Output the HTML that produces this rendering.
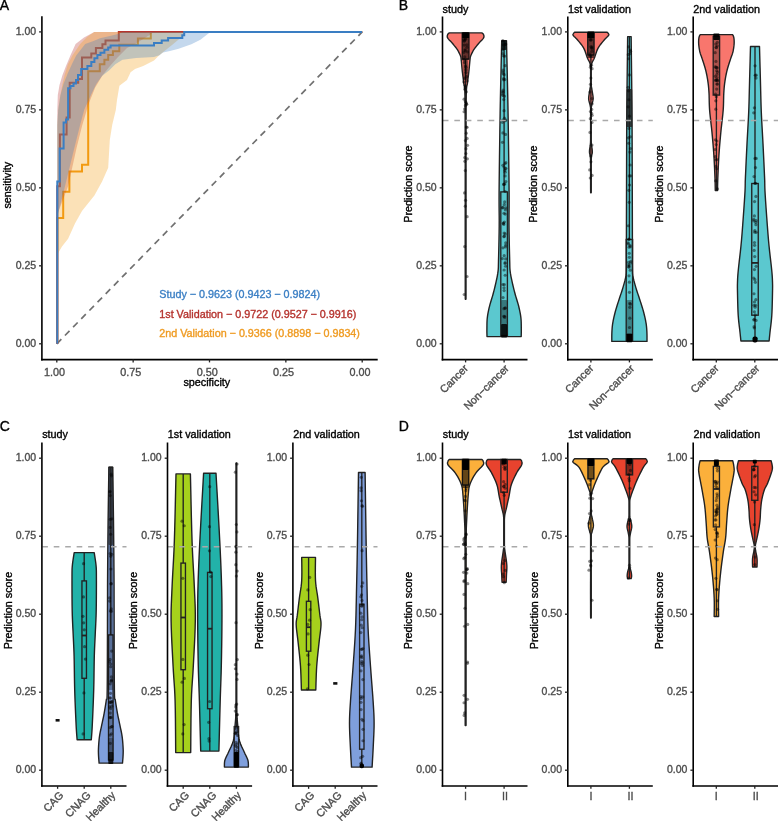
<!DOCTYPE html>
<html><head><meta charset="utf-8"><style>
html,body{margin:0;padding:0;background:#fff;width:778px;height:821px;overflow:hidden}
svg{display:block;will-change:transform}
text{font-family:"Liberation Sans", sans-serif}
</style></head><body>
<svg width="778" height="821" viewBox="0 0 778 821" font-family='"Liberation Sans", sans-serif'><rect width="778" height="821" fill="#fff"/><line x1="56.8" y1="343.8" x2="362.2" y2="31.9" stroke="#707070" stroke-width="1.7" stroke-dasharray="6.5 5.15"/><path d="M57.3,343.8 V217.9 H63.2 V191.7 H69.4 V171.6 H82 V164.7 H88.2 V71.3 H99.8 V64.3 H104.4 V59.7 H108.2 V55.1 H112.9 V51.2 H119.3 V44.8 H137.9 V38.5 H150.8 V31.9 H362.2" fill="none" stroke="#f39a12" stroke-width="2.0" stroke-linejoin="miter"/><path d="M57.3,343.8 V186.3 H59.9 V134.5 H66.6 V117.5 H69.7 V82.8 H78.2 V79 H82 V57.4 H91.3 V53.5 H95.9 V48.1 H102.4 V44.3 H105.5 V40.4 H118.8 V31.9 H362.2" fill="none" stroke="#b7332e" stroke-width="2.0" stroke-linejoin="miter"/><path d="M57.30,214.00 L57.30,110.00 L57.80,95.00 L59.50,85.00 L62.50,75.00 L66.00,66.00 L70.40,55.60 L75.60,44.10 L84.00,37.50 L94.20,31.90 L153.00,31.90 L150.40,34.50 L143.20,39.00 L136.00,43.50 L127.00,48.00 L118.00,57.00 L110.00,66.00 L102.70,75.00 L98.50,82.00 L95.20,87.40 L88.60,103.90 L82.10,125.80 L76.60,147.70 L68.10,186.30 L58.10,212.50Z" fill="#b7332e" fill-opacity="0.3" stroke="none"/><path d="M57.30,254.60 L57.30,125.00 L58.20,110.00 L60.00,97.00 L62.30,85.00 L64.60,75.00 L68.00,64.00 L72.40,55.60 L80.10,44.10 L87.00,37.00 L94.20,31.90 L186.00,31.90 L184.00,35.00 L172.00,45.00 L162.00,53.00 L158.50,56.00 L154.00,60.60 L143.20,66.00 L135.00,69.00 L130.60,72.30 L127.00,80.00 L119.40,85.80 L117.00,100.00 L115.80,110.00 L112.20,125.00 L109.80,140.00 L108.20,167.80 L102.10,181.60 L94.40,195.50 L82.00,211.00 L75.10,223.30 L68.10,238.70 L62.00,246.40Z" fill="#f39a12" fill-opacity="0.3" stroke="none"/><path d="M57.30,220.00 L57.30,125.00 L58.20,110.00 L60.50,95.00 L63.50,84.00 L67.90,73.00 L72.00,64.00 L76.20,55.60 L85.20,44.10 L93.60,40.90 L100.00,38.20 L110.00,36.00 L118.00,34.00 L122.00,31.90 L211.00,31.90 L209.40,32.70 L200.40,39.80 L191.40,44.30 L178.60,48.80 L170.00,51.00 L163.00,52.50 L159.40,55.20 L154.00,57.00 L136.00,57.90 L122.50,59.70 L115.30,64.20 L109.00,70.50 L102.00,76.00 L96.30,84.10 L91.90,92.90 L84.30,109.40 L79.90,125.80 L74.40,147.70 L65.00,186.30 L58.00,214.00Z" fill="#3a7ec3" fill-opacity="0.3" stroke="none"/><path d="M57.3,343.8 V181.6 H59.7 V148.4 H63.6 V122.5 H66 V119.5 H68.1 V88.2 H70.5 V85.9 H73.5 V83.6 H76 V80 H78 V75 H81.2 V69 H87.4 V65.9 H91.3 V62 H94.4 V58.2 H97.4 V55.1 H100.5 V52.8 H104.4 V49.7 H108.2 V47.4 H110.6 V45.6 H154 V43 H161.7 V40.4 H168.1 V37.9 H182.3 V35.3 H184.2 V31.9 H362.2" fill="none" stroke="#3a7ec3" stroke-width="2.0" stroke-linejoin="miter"/><line x1="41.9" y1="16.2" x2="41.9" y2="360.40000000000003" stroke="#000" stroke-width="1.6"/><line x1="39.10" y1="343.80" x2="41.90" y2="343.80" stroke="#222" stroke-width="1.3"/><text x="36.10" y="346.70" font-size="10.5" text-anchor="end" fill="#4d4d4d" stroke="#4d4d4d" stroke-width="0.35">0.00</text><line x1="39.10" y1="265.83" x2="41.90" y2="265.83" stroke="#222" stroke-width="1.3"/><text x="36.10" y="268.73" font-size="10.5" text-anchor="end" fill="#4d4d4d" stroke="#4d4d4d" stroke-width="0.35">0.25</text><line x1="39.10" y1="187.85" x2="41.90" y2="187.85" stroke="#222" stroke-width="1.3"/><text x="36.10" y="190.75" font-size="10.5" text-anchor="end" fill="#4d4d4d" stroke="#4d4d4d" stroke-width="0.35">0.50</text><line x1="39.10" y1="109.88" x2="41.90" y2="109.88" stroke="#222" stroke-width="1.3"/><text x="36.10" y="112.78" font-size="10.5" text-anchor="end" fill="#4d4d4d" stroke="#4d4d4d" stroke-width="0.35">0.75</text><line x1="39.10" y1="31.90" x2="41.90" y2="31.90" stroke="#222" stroke-width="1.3"/><text x="36.10" y="34.80" font-size="10.5" text-anchor="end" fill="#4d4d4d" stroke="#4d4d4d" stroke-width="0.35">1.00</text><line x1="41.1" y1="359.6" x2="377.7" y2="359.6" stroke="#000" stroke-width="1.6"/><line x1="56.80" y1="359.60" x2="56.80" y2="362.40" stroke="#222" stroke-width="1.3"/><line x1="133.15" y1="359.60" x2="133.15" y2="362.40" stroke="#222" stroke-width="1.3"/><line x1="209.50" y1="359.60" x2="209.50" y2="362.40" stroke="#222" stroke-width="1.3"/><line x1="285.85" y1="359.60" x2="285.85" y2="362.40" stroke="#222" stroke-width="1.3"/><line x1="362.20" y1="359.60" x2="362.20" y2="362.40" stroke="#222" stroke-width="1.3"/><text x="54.50" y="375.80" font-size="10.8" text-anchor="middle" fill="#4d4d4d" stroke="#4d4d4d" stroke-width="0.35">1.00</text><text x="130.85" y="375.80" font-size="10.8" text-anchor="middle" fill="#4d4d4d" stroke="#4d4d4d" stroke-width="0.35">0.75</text><text x="207.20" y="375.80" font-size="10.8" text-anchor="middle" fill="#4d4d4d" stroke="#4d4d4d" stroke-width="0.35">0.50</text><text x="283.55" y="375.80" font-size="10.8" text-anchor="middle" fill="#4d4d4d" stroke="#4d4d4d" stroke-width="0.35">0.25</text><text x="359.90" y="375.80" font-size="10.8" text-anchor="middle" fill="#4d4d4d" stroke="#4d4d4d" stroke-width="0.35">0.00</text><text x="206.80" y="385.90" font-size="10.8" text-anchor="middle" fill="#000" stroke="#000" stroke-width="0.35">specificity</text><text x="11.50" y="185.20" font-size="10.8" text-anchor="middle" fill="#000" stroke="#000" stroke-width="0.35" transform="rotate(-90 11.50 185.20)">sensitivity</text><text x="159.30" y="297.90" font-size="10.75" text-anchor="start" fill="#3b7fc4" stroke="#3b7fc4" stroke-width="0.35">Study − 0.9623 (0.9423 − 0.9824)</text><text x="159.30" y="317.60" font-size="10.75" text-anchor="start" fill="#b5322d" stroke="#b5322d" stroke-width="0.35">1st Validation − 0.9722 (0.9527 − 0.9916)</text><text x="159.30" y="336.90" font-size="10.75" text-anchor="start" fill="#ef9b22" stroke="#ef9b22" stroke-width="0.35">2nd Validation − 0.9366 (0.8898 − 0.9834)</text><text x="-0.30" y="9.80" font-size="14" text-anchor="start" fill="#000" stroke="#000" stroke-width="0.35">A</text><path d="M481.80,32.90 L481.99,33.03 L482.26,33.19 L482.58,33.39 L482.90,33.63 L483.19,33.93 L483.40,34.30 L483.58,34.74 L483.76,35.24 L483.91,35.79 L483.97,36.40 L483.92,37.03 L483.70,37.70 L483.28,38.40 L482.68,39.13 L481.96,39.91 L481.17,40.71 L480.37,41.54 L479.60,42.40 L478.82,43.32 L477.99,44.31 L477.13,45.32 L476.30,46.33 L475.55,47.27 L474.90,48.10 L474.39,48.80 L473.98,49.39 L473.64,49.92 L473.33,50.43 L473.03,50.98 L472.70,51.60 L472.33,52.32 L471.94,53.09 L471.55,53.90 L471.19,54.71 L470.86,55.48 L470.60,56.20 L470.42,56.75 L470.31,57.15 L470.24,57.51 L470.18,57.97 L470.11,58.66 L470.00,59.70 L469.85,61.17 L469.68,62.97 L469.50,65.00 L469.31,67.14 L469.11,69.28 L468.90,71.30 L468.68,73.21 L468.45,75.11 L468.21,77.01 L467.97,78.92 L467.73,80.84 L467.50,82.80 L467.28,84.30 L467.04,85.23 L466.81,86.18 L466.59,87.74 L466.40,90.48 L466.25,95.00 L466.14,101.17 L466.07,108.50 L466.02,117.01 L465.99,126.75 L465.97,137.73 L465.95,150.00 L465.93,164.65 L465.93,181.88 L465.94,200.36 L465.95,218.76 L465.95,235.75 L465.95,250.00 L465.94,261.72 L465.92,272.01 L465.90,280.90 L465.90,288.40 L465.90,294.52 L465.85,299.30 L465.35,299.30 L465.30,294.52 L465.30,288.40 L465.30,280.90 L465.28,272.01 L465.26,261.72 L465.25,250.00 L465.25,235.75 L465.25,218.76 L465.26,200.36 L465.27,181.88 L465.27,164.65 L465.25,150.00 L465.23,137.73 L465.21,126.75 L465.18,117.01 L465.13,108.50 L465.06,101.17 L464.95,95.00 L464.80,90.48 L464.61,87.74 L464.39,86.18 L464.16,85.23 L463.92,84.30 L463.70,82.80 L463.47,80.84 L463.23,78.92 L462.99,77.01 L462.75,75.11 L462.52,73.21 L462.30,71.30 L462.09,69.28 L461.89,67.14 L461.70,65.00 L461.52,62.97 L461.35,61.17 L461.20,59.70 L461.09,58.66 L461.02,57.97 L460.96,57.51 L460.89,57.15 L460.78,56.75 L460.60,56.20 L460.34,55.48 L460.01,54.71 L459.65,53.90 L459.26,53.09 L458.87,52.32 L458.50,51.60 L458.17,50.98 L457.87,50.43 L457.56,49.92 L457.22,49.39 L456.81,48.80 L456.30,48.10 L455.65,47.27 L454.90,46.33 L454.07,45.32 L453.21,44.31 L452.38,43.32 L451.60,42.40 L450.83,41.54 L450.03,40.71 L449.24,39.91 L448.52,39.13 L447.92,38.40 L447.50,37.70 L447.28,37.03 L447.23,36.40 L447.29,35.79 L447.44,35.24 L447.62,34.74 L447.80,34.30 L448.01,33.93 L448.30,33.63 L448.62,33.39 L448.94,33.19 L449.21,33.03 L449.40,32.90Z" fill="#f8766d" stroke="#222" stroke-width="1.4" stroke-linejoin="round"/><line x1="465.60" y1="59.00" x2="465.60" y2="299.30" stroke="#222" stroke-width="1.35"/><rect x="462.20" y="33.00" width="6.80" height="26.00" fill="none" stroke="#222" stroke-width="1.35"/><rect x="462.10" y="32.30" width="7.00" height="6.20" rx="0.8" fill="#000" fill-opacity="1.0"/><rect x="462.30" y="38.50" width="6.60" height="21.50" rx="0.8" fill="#000" fill-opacity="0.6"/><rect x="463.30" y="60.00" width="4.60" height="20.00" rx="0.8" fill="#000" fill-opacity="0.45"/><circle cx="464.20" cy="45.12" r="1.6" fill="#000" fill-opacity="0.45"/><circle cx="463.89" cy="52.32" r="1.6" fill="#000" fill-opacity="0.45"/><circle cx="465.06" cy="49.79" r="1.6" fill="#000" fill-opacity="0.45"/><circle cx="465.63" cy="39.28" r="1.6" fill="#000" fill-opacity="0.45"/><circle cx="465.33" cy="38.82" r="1.6" fill="#000" fill-opacity="0.45"/><circle cx="463.96" cy="39.54" r="1.6" fill="#000" fill-opacity="0.45"/><circle cx="466.91" cy="47.34" r="1.6" fill="#000" fill-opacity="0.45"/><circle cx="464.49" cy="40.72" r="1.6" fill="#000" fill-opacity="0.45"/><circle cx="467.39" cy="51.80" r="1.6" fill="#000" fill-opacity="0.45"/><circle cx="465.19" cy="50.70" r="1.6" fill="#000" fill-opacity="0.45"/><circle cx="463.79" cy="59.48" r="1.6" fill="#000" fill-opacity="0.45"/><circle cx="464.76" cy="56.89" r="1.6" fill="#000" fill-opacity="0.45"/><circle cx="464.07" cy="41.17" r="1.6" fill="#000" fill-opacity="0.45"/><circle cx="466.86" cy="44.79" r="1.6" fill="#000" fill-opacity="0.45"/><circle cx="465.93" cy="67.23" r="1.6" fill="#000" fill-opacity="0.45"/><circle cx="465.09" cy="85.56" r="1.6" fill="#000" fill-opacity="0.45"/><circle cx="463.85" cy="81.91" r="1.6" fill="#000" fill-opacity="0.45"/><circle cx="464.42" cy="62.38" r="1.6" fill="#000" fill-opacity="0.45"/><circle cx="465.31" cy="87.22" r="1.6" fill="#000" fill-opacity="0.45"/><circle cx="465.94" cy="72.57" r="1.6" fill="#000" fill-opacity="0.45"/><circle cx="464.80" cy="78.13" r="1.6" fill="#000" fill-opacity="0.45"/><circle cx="466.40" cy="91.78" r="1.6" fill="#000" fill-opacity="0.45"/><circle cx="465.90" cy="69.76" r="1.6" fill="#000" fill-opacity="0.45"/><circle cx="467.10" cy="81.01" r="1.6" fill="#000" fill-opacity="0.45"/><circle cx="464.75" cy="89.18" r="1.6" fill="#000" fill-opacity="0.45"/><circle cx="464.07" cy="99.21" r="1.6" fill="#000" fill-opacity="0.45"/><circle cx="466.63" cy="76.72" r="1.6" fill="#000" fill-opacity="0.45"/><circle cx="465.56" cy="66.08" r="1.6" fill="#000" fill-opacity="0.45"/><circle cx="466.27" cy="102.74" r="1.6" fill="#000" fill-opacity="0.45"/><circle cx="465.89" cy="153.52" r="1.6" fill="#000" fill-opacity="0.45"/><circle cx="464.85" cy="161.28" r="1.6" fill="#000" fill-opacity="0.45"/><circle cx="465.98" cy="148.67" r="1.6" fill="#000" fill-opacity="0.45"/><circle cx="465.42" cy="140.59" r="1.6" fill="#000" fill-opacity="0.45"/><circle cx="467.38" cy="158.80" r="1.6" fill="#000" fill-opacity="0.45"/><circle cx="466.26" cy="133.19" r="1.6" fill="#000" fill-opacity="0.45"/><circle cx="466.41" cy="104.25" r="1.6" fill="#000" fill-opacity="0.45"/><circle cx="467.57" cy="145.30" r="1.6" fill="#000" fill-opacity="0.45"/><circle cx="464.74" cy="157.53" r="1.6" fill="#000" fill-opacity="0.45"/><circle cx="466.27" cy="127.01" r="1.6" fill="#000" fill-opacity="0.45"/><circle cx="465.45" cy="101.58" r="1.6" fill="#000" fill-opacity="0.45"/><circle cx="464.07" cy="111.76" r="1.6" fill="#000" fill-opacity="0.45"/><circle cx="466.67" cy="104.13" r="1.6" fill="#000" fill-opacity="0.45"/><circle cx="464.59" cy="109.05" r="1.6" fill="#000" fill-opacity="0.45"/><circle cx="467.09" cy="127.37" r="1.6" fill="#000" fill-opacity="0.45"/><circle cx="465.40" cy="105.64" r="1.6" fill="#000" fill-opacity="0.45"/><circle cx="467.13" cy="138.46" r="1.6" fill="#000" fill-opacity="0.45"/><circle cx="467.06" cy="276.51" r="1.6" fill="#000" fill-opacity="0.45"/><circle cx="465.26" cy="206.19" r="1.6" fill="#000" fill-opacity="0.45"/><circle cx="467.14" cy="216.64" r="1.6" fill="#000" fill-opacity="0.45"/><circle cx="464.20" cy="294.51" r="1.6" fill="#000" fill-opacity="0.45"/><circle cx="464.53" cy="192.91" r="1.6" fill="#000" fill-opacity="0.45"/><circle cx="465.54" cy="200.33" r="1.6" fill="#000" fill-opacity="0.45"/><circle cx="464.65" cy="246.59" r="1.6" fill="#000" fill-opacity="0.45"/><circle cx="465.28" cy="170.53" r="1.6" fill="#000" fill-opacity="0.45"/><path d="M506.47,40.60 L506.58,44.86 L506.72,50.73 L506.89,57.70 L507.07,65.24 L507.24,72.85 L507.40,80.00 L507.54,86.48 L507.67,92.65 L507.80,98.89 L507.93,105.55 L508.06,113.00 L508.20,121.60 L508.36,132.04 L508.53,144.15 L508.71,157.05 L508.87,169.85 L509.01,181.66 L509.10,191.60 L509.13,199.39 L509.11,205.68 L509.06,210.99 L509.01,215.81 L508.98,220.64 L509.00,226.00 L509.07,232.08 L509.18,238.53 L509.31,244.99 L509.45,251.12 L509.59,256.57 L509.70,261.00 L509.78,264.17 L509.82,266.31 L509.86,267.77 L509.91,268.90 L510.02,270.06 L510.20,271.60 L510.46,273.46 L510.78,275.36 L511.15,277.29 L511.55,279.23 L511.97,281.17 L512.40,283.10 L512.84,285.03 L513.30,286.96 L513.77,288.89 L514.27,290.83 L514.78,292.77 L515.30,294.70 L515.85,296.63 L516.44,298.57 L517.04,300.51 L517.64,302.44 L518.20,304.37 L518.70,306.30 L519.16,308.22 L519.59,310.14 L519.99,312.05 L520.34,313.96 L520.65,315.88 L520.90,317.80 L521.08,319.78 L521.19,321.82 L521.24,323.87 L521.27,325.86 L521.28,327.72 L521.30,329.40 L521.31,330.94 L521.30,332.39 L521.27,333.72 L521.24,334.90 L521.22,335.87 L521.20,336.60 L487.00,336.60 L486.98,335.87 L486.96,334.90 L486.93,333.72 L486.90,332.39 L486.89,330.94 L486.90,329.40 L486.92,327.72 L486.93,325.86 L486.96,323.87 L487.01,321.82 L487.12,319.78 L487.30,317.80 L487.55,315.88 L487.86,313.96 L488.21,312.05 L488.61,310.14 L489.04,308.22 L489.50,306.30 L490.00,304.37 L490.56,302.44 L491.16,300.51 L491.76,298.57 L492.35,296.63 L492.90,294.70 L493.42,292.77 L493.93,290.83 L494.43,288.89 L494.90,286.96 L495.36,285.03 L495.80,283.10 L496.23,281.17 L496.65,279.23 L497.05,277.29 L497.42,275.36 L497.74,273.46 L498.00,271.60 L498.18,270.06 L498.29,268.90 L498.34,267.77 L498.38,266.31 L498.42,264.17 L498.50,261.00 L498.61,256.57 L498.75,251.12 L498.89,244.99 L499.02,238.53 L499.13,232.08 L499.20,226.00 L499.22,220.64 L499.19,215.81 L499.14,210.99 L499.09,205.68 L499.07,199.39 L499.10,191.60 L499.19,181.66 L499.33,169.85 L499.49,157.05 L499.67,144.15 L499.84,132.04 L500.00,121.60 L500.14,113.00 L500.27,105.55 L500.40,98.89 L500.53,92.65 L500.66,86.48 L500.80,80.00 L500.96,72.85 L501.13,65.24 L501.31,57.70 L501.48,50.73 L501.62,44.86 L501.73,40.60Z" fill="#5bc8cf" stroke="#222" stroke-width="1.4" stroke-linejoin="round"/><line x1="504.10" y1="40.60" x2="504.10" y2="191.90" stroke="#222" stroke-width="1.35"/><rect x="500.80" y="191.90" width="6.60" height="143.60" fill="none" stroke="#222" stroke-width="1.35"/><rect x="501.85" y="40.50" width="4.50" height="9.50" rx="0.8" fill="#000" fill-opacity="0.8"/><rect x="501.10" y="324.00" width="6.00" height="13.60" rx="0.8" fill="#000" fill-opacity="0.9"/><rect x="501.30" y="300.00" width="5.60" height="24.00" rx="0.8" fill="#000" fill-opacity="0.4"/><circle cx="504.34" cy="96.14" r="1.6" fill="#000" fill-opacity="0.45"/><circle cx="504.79" cy="183.95" r="1.6" fill="#000" fill-opacity="0.45"/><circle cx="504.52" cy="118.13" r="1.6" fill="#000" fill-opacity="0.45"/><circle cx="502.49" cy="142.30" r="1.6" fill="#000" fill-opacity="0.45"/><circle cx="505.11" cy="175.89" r="1.6" fill="#000" fill-opacity="0.45"/><circle cx="505.17" cy="172.13" r="1.6" fill="#000" fill-opacity="0.45"/><circle cx="503.74" cy="99.61" r="1.6" fill="#000" fill-opacity="0.45"/><circle cx="504.58" cy="56.17" r="1.6" fill="#000" fill-opacity="0.45"/><circle cx="502.54" cy="49.96" r="1.6" fill="#000" fill-opacity="0.45"/><circle cx="502.88" cy="72.00" r="1.6" fill="#000" fill-opacity="0.45"/><circle cx="502.49" cy="91.74" r="1.6" fill="#000" fill-opacity="0.45"/><circle cx="502.84" cy="40.64" r="1.6" fill="#000" fill-opacity="0.45"/><circle cx="503.61" cy="55.86" r="1.6" fill="#000" fill-opacity="0.45"/><circle cx="505.45" cy="44.44" r="1.6" fill="#000" fill-opacity="0.45"/><circle cx="502.83" cy="132.96" r="1.6" fill="#000" fill-opacity="0.45"/><circle cx="503.55" cy="78.54" r="1.6" fill="#000" fill-opacity="0.45"/><circle cx="502.74" cy="95.37" r="1.6" fill="#000" fill-opacity="0.45"/><circle cx="505.88" cy="168.28" r="1.6" fill="#000" fill-opacity="0.45"/><circle cx="504.04" cy="110.68" r="1.6" fill="#000" fill-opacity="0.45"/><circle cx="502.67" cy="53.52" r="1.6" fill="#000" fill-opacity="0.45"/><circle cx="503.25" cy="92.13" r="1.6" fill="#000" fill-opacity="0.45"/><circle cx="502.88" cy="165.26" r="1.6" fill="#000" fill-opacity="0.45"/><circle cx="505.72" cy="44.07" r="1.6" fill="#000" fill-opacity="0.45"/><circle cx="502.83" cy="120.05" r="1.6" fill="#000" fill-opacity="0.45"/><circle cx="502.40" cy="122.29" r="1.6" fill="#000" fill-opacity="0.45"/><circle cx="505.82" cy="120.03" r="1.6" fill="#000" fill-opacity="0.45"/><circle cx="504.81" cy="170.44" r="1.6" fill="#000" fill-opacity="0.45"/><circle cx="503.62" cy="79.87" r="1.6" fill="#000" fill-opacity="0.45"/><circle cx="505.08" cy="65.72" r="1.6" fill="#000" fill-opacity="0.45"/><circle cx="505.10" cy="120.70" r="1.6" fill="#000" fill-opacity="0.45"/><circle cx="503.10" cy="90.18" r="1.6" fill="#000" fill-opacity="0.45"/><circle cx="505.85" cy="162.65" r="1.6" fill="#000" fill-opacity="0.45"/><circle cx="505.20" cy="168.84" r="1.6" fill="#000" fill-opacity="0.45"/><circle cx="504.96" cy="163.68" r="1.6" fill="#000" fill-opacity="0.45"/><circle cx="504.16" cy="74.70" r="1.6" fill="#000" fill-opacity="0.45"/><circle cx="502.40" cy="94.08" r="1.6" fill="#000" fill-opacity="0.45"/><circle cx="503.31" cy="44.80" r="1.6" fill="#000" fill-opacity="0.45"/><circle cx="504.79" cy="79.58" r="1.6" fill="#000" fill-opacity="0.45"/><circle cx="503.91" cy="184.46" r="1.6" fill="#000" fill-opacity="0.45"/><circle cx="505.86" cy="181.53" r="1.6" fill="#000" fill-opacity="0.45"/><circle cx="503.61" cy="184.23" r="1.6" fill="#000" fill-opacity="0.45"/><circle cx="503.12" cy="73.76" r="1.6" fill="#000" fill-opacity="0.45"/><circle cx="503.04" cy="70.18" r="1.6" fill="#000" fill-opacity="0.45"/><circle cx="505.54" cy="134.46" r="1.6" fill="#000" fill-opacity="0.45"/><circle cx="504.03" cy="167.00" r="1.6" fill="#000" fill-opacity="0.45"/><circle cx="505.18" cy="275.23" r="1.6" fill="#000" fill-opacity="0.45"/><circle cx="504.68" cy="201.94" r="1.6" fill="#000" fill-opacity="0.45"/><circle cx="505.12" cy="308.36" r="1.6" fill="#000" fill-opacity="0.45"/><circle cx="504.02" cy="287.77" r="1.6" fill="#000" fill-opacity="0.45"/><circle cx="505.14" cy="214.03" r="1.6" fill="#000" fill-opacity="0.45"/><circle cx="505.18" cy="233.89" r="1.6" fill="#000" fill-opacity="0.45"/><circle cx="503.73" cy="316.34" r="1.6" fill="#000" fill-opacity="0.45"/><circle cx="505.71" cy="242.78" r="1.6" fill="#000" fill-opacity="0.45"/><circle cx="502.91" cy="284.50" r="1.6" fill="#000" fill-opacity="0.45"/><circle cx="502.84" cy="207.39" r="1.6" fill="#000" fill-opacity="0.45"/><circle cx="505.20" cy="307.73" r="1.6" fill="#000" fill-opacity="0.45"/><circle cx="505.28" cy="209.86" r="1.6" fill="#000" fill-opacity="0.45"/><circle cx="504.67" cy="317.46" r="1.6" fill="#000" fill-opacity="0.45"/><circle cx="504.28" cy="236.20" r="1.6" fill="#000" fill-opacity="0.45"/><circle cx="502.35" cy="207.90" r="1.6" fill="#000" fill-opacity="0.45"/><circle cx="504.64" cy="316.24" r="1.6" fill="#000" fill-opacity="0.45"/><circle cx="505.66" cy="258.93" r="1.6" fill="#000" fill-opacity="0.45"/><circle cx="505.44" cy="246.96" r="1.6" fill="#000" fill-opacity="0.45"/><circle cx="503.06" cy="297.57" r="1.6" fill="#000" fill-opacity="0.45"/><circle cx="503.35" cy="223.49" r="1.6" fill="#000" fill-opacity="0.45"/><circle cx="504.41" cy="222.03" r="1.6" fill="#000" fill-opacity="0.45"/><circle cx="503.81" cy="224.46" r="1.6" fill="#000" fill-opacity="0.45"/><circle cx="505.58" cy="207.91" r="1.6" fill="#000" fill-opacity="0.45"/><circle cx="503.95" cy="236.64" r="1.6" fill="#000" fill-opacity="0.45"/><circle cx="505.56" cy="266.25" r="1.6" fill="#000" fill-opacity="0.45"/><circle cx="505.60" cy="245.26" r="1.6" fill="#000" fill-opacity="0.45"/><circle cx="504.21" cy="255.71" r="1.6" fill="#000" fill-opacity="0.45"/><circle cx="502.37" cy="258.53" r="1.6" fill="#000" fill-opacity="0.45"/><circle cx="502.96" cy="247.78" r="1.6" fill="#000" fill-opacity="0.45"/><circle cx="505.18" cy="191.51" r="1.6" fill="#000" fill-opacity="0.45"/><circle cx="504.00" cy="213.23" r="1.6" fill="#000" fill-opacity="0.45"/><circle cx="504.30" cy="284.55" r="1.6" fill="#000" fill-opacity="0.45"/><circle cx="504.17" cy="233.05" r="1.6" fill="#000" fill-opacity="0.45"/><circle cx="505.12" cy="262.65" r="1.6" fill="#000" fill-opacity="0.45"/><circle cx="504.32" cy="204.69" r="1.6" fill="#000" fill-opacity="0.45"/><circle cx="503.30" cy="223.06" r="1.6" fill="#000" fill-opacity="0.45"/><circle cx="504.13" cy="290.62" r="1.6" fill="#000" fill-opacity="0.45"/><circle cx="505.04" cy="263.46" r="1.6" fill="#000" fill-opacity="0.45"/><circle cx="503.90" cy="308.71" r="1.6" fill="#000" fill-opacity="0.45"/><circle cx="504.12" cy="270.02" r="1.6" fill="#000" fill-opacity="0.45"/><path d="M607.20,32.20 L607.36,32.37 L607.59,32.61 L607.85,32.89 L608.11,33.20 L608.34,33.51 L608.50,33.80 L608.62,34.05 L608.76,34.26 L608.85,34.47 L608.87,34.72 L608.76,35.05 L608.50,35.50 L608.05,36.05 L607.45,36.66 L606.73,37.35 L605.93,38.13 L605.07,39.01 L604.20,40.00 L603.26,41.13 L602.20,42.39 L601.10,43.75 L600.01,45.18 L598.99,46.64 L598.10,48.10 L597.35,49.63 L596.70,51.29 L596.11,52.97 L595.58,54.60 L595.08,56.11 L594.60,57.40 L594.14,58.45 L593.71,59.32 L593.32,60.06 L592.96,60.72 L592.63,61.35 L592.33,62.00 L592.07,62.65 L591.85,63.25 L591.66,63.82 L591.49,64.37 L591.36,64.93 L591.25,65.50 L591.20,65.95 L591.20,66.24 L591.20,66.53 L591.20,66.98 L591.20,67.75 L591.20,69.00 L591.20,70.92 L591.20,73.41 L591.20,76.22 L591.20,79.09 L591.20,81.77 L591.20,84.00 L591.28,85.75 L591.47,87.22 L591.69,88.50 L591.92,89.67 L592.15,90.81 L592.33,92.00 L592.51,93.22 L592.71,94.41 L592.90,95.56 L593.04,96.70 L593.13,97.84 L593.12,99.00 L592.98,100.18 L592.73,101.37 L592.41,102.56 L592.07,103.74 L591.77,104.89 L591.55,106.00 L591.41,106.80 L591.32,107.26 L591.25,107.69 L591.21,108.41 L591.20,109.74 L591.20,112.00 L591.20,115.58 L591.20,120.31 L591.20,125.65 L591.20,131.07 L591.20,136.03 L591.20,140.00 L591.30,142.92 L591.54,145.20 L591.81,147.02 L592.06,148.58 L592.25,150.04 L592.33,151.60 L592.27,152.90 L592.10,153.74 L591.87,154.48 L591.62,155.52 L591.40,157.23 L591.25,160.00 L591.20,164.42 L591.20,170.31 L591.20,176.88 L591.20,183.32 L591.20,188.86 L591.15,192.70 L590.65,192.70 L590.60,188.86 L590.60,183.32 L590.60,176.88 L590.60,170.31 L590.60,164.42 L590.55,160.00 L590.40,157.23 L590.18,155.52 L589.93,154.48 L589.70,153.74 L589.53,152.90 L589.47,151.60 L589.55,150.04 L589.74,148.58 L589.99,147.02 L590.26,145.20 L590.50,142.92 L590.60,140.00 L590.60,136.03 L590.60,131.07 L590.60,125.65 L590.60,120.31 L590.60,115.58 L590.60,112.00 L590.60,109.74 L590.59,108.41 L590.55,107.69 L590.48,107.26 L590.39,106.80 L590.25,106.00 L590.03,104.89 L589.73,103.74 L589.39,102.56 L589.07,101.37 L588.82,100.18 L588.68,99.00 L588.67,97.84 L588.76,96.70 L588.90,95.56 L589.09,94.41 L589.29,93.22 L589.47,92.00 L589.65,90.81 L589.88,89.67 L590.11,88.50 L590.33,87.22 L590.52,85.75 L590.60,84.00 L590.60,81.77 L590.60,79.09 L590.60,76.22 L590.60,73.41 L590.60,70.92 L590.60,69.00 L590.60,67.75 L590.60,66.98 L590.60,66.53 L590.60,66.24 L590.60,65.95 L590.55,65.50 L590.44,64.93 L590.31,64.37 L590.14,63.82 L589.95,63.25 L589.73,62.65 L589.47,62.00 L589.17,61.35 L588.84,60.72 L588.48,60.06 L588.09,59.32 L587.66,58.45 L587.20,57.40 L586.72,56.11 L586.22,54.60 L585.69,52.97 L585.10,51.29 L584.45,49.63 L583.70,48.10 L582.81,46.64 L581.79,45.18 L580.70,43.75 L579.60,42.39 L578.54,41.13 L577.60,40.00 L576.73,39.01 L575.87,38.13 L575.07,37.35 L574.35,36.66 L573.75,36.05 L573.30,35.50 L573.04,35.05 L572.93,34.72 L572.95,34.47 L573.04,34.26 L573.17,34.05 L573.30,33.80 L573.46,33.51 L573.69,33.20 L573.95,32.89 L574.21,32.61 L574.44,32.37 L574.60,32.20Z" fill="#f8766d" stroke="#222" stroke-width="1.4" stroke-linejoin="round"/><line x1="590.90" y1="55.00" x2="590.90" y2="192.70" stroke="#222" stroke-width="1.35"/><rect x="587.70" y="32.60" width="6.40" height="22.40" fill="none" stroke="#222" stroke-width="1.35"/><rect x="587.50" y="31.60" width="6.80" height="6.90" rx="0.8" fill="#000" fill-opacity="1.0"/><rect x="587.70" y="38.50" width="6.40" height="19.50" rx="0.8" fill="#000" fill-opacity="0.6"/><circle cx="591.40" cy="47.73" r="1.6" fill="#000" fill-opacity="0.45"/><circle cx="590.99" cy="46.59" r="1.6" fill="#000" fill-opacity="0.45"/><circle cx="592.05" cy="47.08" r="1.6" fill="#000" fill-opacity="0.45"/><circle cx="591.88" cy="51.29" r="1.6" fill="#000" fill-opacity="0.45"/><circle cx="590.27" cy="55.90" r="1.6" fill="#000" fill-opacity="0.45"/><circle cx="592.05" cy="48.63" r="1.6" fill="#000" fill-opacity="0.45"/><circle cx="589.96" cy="53.96" r="1.6" fill="#000" fill-opacity="0.45"/><circle cx="590.75" cy="40.31" r="1.6" fill="#000" fill-opacity="0.45"/><circle cx="590.23" cy="39.38" r="1.6" fill="#000" fill-opacity="0.45"/><circle cx="591.34" cy="39.39" r="1.6" fill="#000" fill-opacity="0.45"/><circle cx="591.93" cy="98.55" r="1.6" fill="#000" fill-opacity="0.45"/><circle cx="591.46" cy="65.19" r="1.6" fill="#000" fill-opacity="0.45"/><circle cx="589.97" cy="91.99" r="1.6" fill="#000" fill-opacity="0.45"/><circle cx="592.12" cy="103.79" r="1.6" fill="#000" fill-opacity="0.45"/><circle cx="592.08" cy="68.64" r="1.6" fill="#000" fill-opacity="0.45"/><circle cx="590.87" cy="78.11" r="1.6" fill="#000" fill-opacity="0.45"/><circle cx="591.76" cy="109.46" r="1.6" fill="#000" fill-opacity="0.45"/><circle cx="590.72" cy="65.56" r="1.6" fill="#000" fill-opacity="0.45"/><circle cx="590.48" cy="84.33" r="1.6" fill="#000" fill-opacity="0.45"/><circle cx="590.43" cy="67.37" r="1.6" fill="#000" fill-opacity="0.45"/><circle cx="589.65" cy="169.94" r="1.6" fill="#000" fill-opacity="0.45"/><circle cx="590.75" cy="155.99" r="1.6" fill="#000" fill-opacity="0.45"/><circle cx="590.46" cy="111.50" r="1.6" fill="#000" fill-opacity="0.45"/><circle cx="590.93" cy="161.79" r="1.6" fill="#000" fill-opacity="0.45"/><circle cx="592.16" cy="115.34" r="1.6" fill="#000" fill-opacity="0.45"/><circle cx="592.13" cy="175.43" r="1.6" fill="#000" fill-opacity="0.45"/><circle cx="590.29" cy="118.70" r="1.6" fill="#000" fill-opacity="0.45"/><circle cx="591.63" cy="113.29" r="1.6" fill="#000" fill-opacity="0.45"/><circle cx="589.94" cy="132.45" r="1.6" fill="#000" fill-opacity="0.45"/><circle cx="591.97" cy="145.05" r="1.6" fill="#000" fill-opacity="0.45"/><circle cx="590.27" cy="177.98" r="1.6" fill="#000" fill-opacity="0.45"/><circle cx="591.99" cy="122.40" r="1.6" fill="#000" fill-opacity="0.45"/><path d="M631.15,36.60 L631.22,42.57 L631.32,50.99 L631.44,60.87 L631.56,71.28 L631.68,81.24 L631.77,89.80 L631.84,96.05 L631.90,100.60 L631.95,104.69 L631.99,109.61 L632.04,116.63 L632.09,127.00 L632.14,142.36 L632.20,162.03 L632.26,183.79 L632.32,205.43 L632.37,224.74 L632.40,239.50 L632.41,249.34 L632.40,255.96 L632.38,260.24 L632.37,263.09 L632.37,265.37 L632.40,268.00 L632.44,270.55 L632.47,272.23 L632.51,273.36 L632.60,274.26 L632.75,275.23 L633.00,276.60 L633.35,278.35 L633.79,280.21 L634.30,282.16 L634.85,284.15 L635.43,286.14 L636.00,288.10 L636.59,290.03 L637.21,291.96 L637.86,293.89 L638.52,295.83 L639.17,297.77 L639.80,299.70 L640.42,301.63 L641.05,303.57 L641.67,305.51 L642.28,307.44 L642.86,309.37 L643.40,311.30 L643.91,313.25 L644.40,315.22 L644.87,317.19 L645.30,319.13 L645.68,321.01 L646.00,322.80 L646.26,324.48 L646.46,326.06 L646.61,327.59 L646.72,329.08 L646.82,330.58 L646.90,332.10 L646.96,333.76 L647.00,335.54 L647.01,337.33 L647.00,338.99 L647.00,340.39 L647.00,341.40 L611.80,341.40 L611.80,340.39 L611.80,338.99 L611.79,337.33 L611.80,335.54 L611.84,333.76 L611.90,332.10 L611.98,330.58 L612.08,329.08 L612.19,327.59 L612.34,326.06 L612.54,324.48 L612.80,322.80 L613.12,321.01 L613.50,319.13 L613.93,317.19 L614.40,315.22 L614.89,313.25 L615.40,311.30 L615.94,309.37 L616.52,307.44 L617.12,305.51 L617.75,303.57 L618.38,301.63 L619.00,299.70 L619.63,297.77 L620.28,295.83 L620.94,293.89 L621.59,291.96 L622.21,290.03 L622.80,288.10 L623.37,286.14 L623.95,284.15 L624.50,282.16 L625.01,280.21 L625.45,278.35 L625.80,276.60 L626.05,275.23 L626.20,274.26 L626.29,273.36 L626.33,272.23 L626.36,270.55 L626.40,268.00 L626.43,265.37 L626.43,263.09 L626.42,260.24 L626.40,255.96 L626.39,249.34 L626.40,239.50 L626.43,224.74 L626.48,205.43 L626.54,183.79 L626.60,162.03 L626.66,142.36 L626.71,127.00 L626.76,116.63 L626.81,109.61 L626.85,104.69 L626.90,100.60 L626.96,96.05 L627.03,89.80 L627.12,81.24 L627.24,71.28 L627.36,60.87 L627.48,50.99 L627.58,42.57 L627.65,36.60Z" fill="#5bc8cf" stroke="#222" stroke-width="1.4" stroke-linejoin="round"/><line x1="629.40" y1="36.60" x2="629.40" y2="239.50" stroke="#222" stroke-width="1.35"/><rect x="626.20" y="239.50" width="6.40" height="101.50" fill="none" stroke="#222" stroke-width="1.35"/><rect x="626.60" y="89.00" width="5.60" height="38.00" rx="0.8" fill="#222" fill-opacity="0.85"/><rect x="626.40" y="333.50" width="6.00" height="8.80" rx="0.8" fill="#000" fill-opacity="1.0"/><rect x="626.70" y="300.00" width="5.40" height="33.50" rx="0.8" fill="#000" fill-opacity="0.35"/><circle cx="629.92" cy="152.09" r="1.6" fill="#000" fill-opacity="0.45"/><circle cx="628.25" cy="54.71" r="1.6" fill="#000" fill-opacity="0.45"/><circle cx="629.21" cy="175.89" r="1.6" fill="#000" fill-opacity="0.45"/><circle cx="630.54" cy="51.26" r="1.6" fill="#000" fill-opacity="0.45"/><circle cx="630.18" cy="165.01" r="1.6" fill="#000" fill-opacity="0.45"/><circle cx="630.33" cy="53.55" r="1.6" fill="#000" fill-opacity="0.45"/><circle cx="630.34" cy="50.08" r="1.6" fill="#000" fill-opacity="0.45"/><circle cx="628.98" cy="128.44" r="1.6" fill="#000" fill-opacity="0.45"/><circle cx="630.51" cy="148.54" r="1.6" fill="#000" fill-opacity="0.45"/><circle cx="628.44" cy="90.81" r="1.6" fill="#000" fill-opacity="0.45"/><circle cx="628.72" cy="143.25" r="1.6" fill="#000" fill-opacity="0.45"/><circle cx="628.52" cy="58.75" r="1.6" fill="#000" fill-opacity="0.45"/><circle cx="628.62" cy="46.80" r="1.6" fill="#000" fill-opacity="0.45"/><circle cx="628.89" cy="99.75" r="1.6" fill="#000" fill-opacity="0.45"/><circle cx="628.85" cy="190.32" r="1.6" fill="#000" fill-opacity="0.45"/><circle cx="628.56" cy="137.82" r="1.6" fill="#000" fill-opacity="0.45"/><circle cx="628.15" cy="106.83" r="1.6" fill="#000" fill-opacity="0.45"/><circle cx="628.14" cy="87.29" r="1.6" fill="#000" fill-opacity="0.45"/><circle cx="629.53" cy="184.98" r="1.6" fill="#000" fill-opacity="0.45"/><circle cx="629.33" cy="74.95" r="1.6" fill="#000" fill-opacity="0.45"/><circle cx="628.38" cy="225.77" r="1.6" fill="#000" fill-opacity="0.45"/><circle cx="629.22" cy="202.35" r="1.6" fill="#000" fill-opacity="0.45"/><circle cx="630.27" cy="136.79" r="1.6" fill="#000" fill-opacity="0.45"/><circle cx="629.42" cy="116.16" r="1.6" fill="#000" fill-opacity="0.45"/><circle cx="630.65" cy="175.80" r="1.6" fill="#000" fill-opacity="0.45"/><circle cx="630.26" cy="270.19" r="1.6" fill="#000" fill-opacity="0.45"/><circle cx="629.75" cy="303.31" r="1.6" fill="#000" fill-opacity="0.45"/><circle cx="629.00" cy="275.83" r="1.6" fill="#000" fill-opacity="0.45"/><circle cx="628.44" cy="243.95" r="1.6" fill="#000" fill-opacity="0.45"/><circle cx="630.03" cy="245.44" r="1.6" fill="#000" fill-opacity="0.45"/><circle cx="628.52" cy="262.26" r="1.6" fill="#000" fill-opacity="0.45"/><circle cx="630.29" cy="246.69" r="1.6" fill="#000" fill-opacity="0.45"/><circle cx="629.84" cy="318.22" r="1.6" fill="#000" fill-opacity="0.45"/><circle cx="628.73" cy="264.66" r="1.6" fill="#000" fill-opacity="0.45"/><circle cx="629.29" cy="265.67" r="1.6" fill="#000" fill-opacity="0.45"/><circle cx="629.26" cy="253.34" r="1.6" fill="#000" fill-opacity="0.45"/><circle cx="630.60" cy="262.96" r="1.6" fill="#000" fill-opacity="0.45"/><circle cx="629.52" cy="327.51" r="1.6" fill="#000" fill-opacity="0.45"/><circle cx="630.61" cy="261.24" r="1.6" fill="#000" fill-opacity="0.45"/><circle cx="629.03" cy="267.17" r="1.6" fill="#000" fill-opacity="0.45"/><circle cx="629.09" cy="239.10" r="1.6" fill="#000" fill-opacity="0.45"/><circle cx="629.41" cy="282.19" r="1.6" fill="#000" fill-opacity="0.45"/><circle cx="629.41" cy="257.29" r="1.6" fill="#000" fill-opacity="0.45"/><circle cx="628.79" cy="239.45" r="1.6" fill="#000" fill-opacity="0.45"/><circle cx="629.14" cy="247.17" r="1.6" fill="#000" fill-opacity="0.45"/><circle cx="628.16" cy="242.79" r="1.6" fill="#000" fill-opacity="0.45"/><circle cx="628.71" cy="266.69" r="1.6" fill="#000" fill-opacity="0.45"/><circle cx="629.48" cy="292.29" r="1.6" fill="#000" fill-opacity="0.45"/><circle cx="629.81" cy="307.30" r="1.6" fill="#000" fill-opacity="0.45"/><circle cx="630.39" cy="304.16" r="1.6" fill="#000" fill-opacity="0.45"/><path d="M732.70,34.60 L732.84,34.94 L733.05,35.38 L733.29,35.91 L733.53,36.53 L733.74,37.23 L733.90,38.00 L734.01,38.85 L734.09,39.80 L734.15,40.82 L734.17,41.91 L734.16,43.04 L734.10,44.20 L733.99,45.42 L733.84,46.71 L733.66,48.06 L733.43,49.41 L733.18,50.73 L732.90,52.00 L732.59,53.15 L732.26,54.20 L731.89,55.23 L731.50,56.31 L731.07,57.51 L730.60,58.90 L730.07,60.53 L729.47,62.34 L728.84,64.27 L728.21,66.26 L727.62,68.26 L727.10,70.20 L726.65,72.10 L726.23,74.00 L725.85,75.90 L725.50,77.80 L725.19,79.70 L724.90,81.60 L724.65,83.42 L724.43,85.16 L724.25,86.89 L724.09,88.71 L723.94,90.68 L723.80,92.90 L723.69,95.35 L723.63,97.97 L723.58,100.74 L723.51,103.68 L723.40,106.76 L723.20,110.00 L722.90,113.45 L722.51,117.13 L722.08,120.96 L721.63,124.86 L721.19,128.77 L720.80,132.60 L720.45,136.37 L720.11,140.13 L719.78,143.89 L719.48,147.66 L719.19,151.43 L718.93,155.20 L718.69,159.09 L718.48,163.13 L718.28,167.17 L718.11,171.08 L717.96,174.70 L717.83,177.90 L717.73,180.73 L717.66,183.31 L717.61,185.62 L717.57,187.61 L717.55,189.25 L717.52,190.50 L715.28,190.50 L715.25,189.25 L715.23,187.61 L715.19,185.62 L715.14,183.31 L715.07,180.73 L714.97,177.90 L714.84,174.70 L714.69,171.08 L714.52,167.17 L714.32,163.13 L714.11,159.09 L713.87,155.20 L713.61,151.43 L713.32,147.66 L713.02,143.89 L712.69,140.13 L712.35,136.37 L712.00,132.60 L711.61,128.77 L711.17,124.86 L710.72,120.96 L710.29,117.13 L709.90,113.45 L709.60,110.00 L709.40,106.76 L709.29,103.68 L709.22,100.74 L709.17,97.97 L709.11,95.35 L709.00,92.90 L708.86,90.68 L708.71,88.71 L708.55,86.89 L708.37,85.16 L708.15,83.42 L707.90,81.60 L707.61,79.70 L707.30,77.80 L706.95,75.90 L706.57,74.00 L706.15,72.10 L705.70,70.20 L705.18,68.26 L704.59,66.26 L703.96,64.27 L703.33,62.34 L702.73,60.53 L702.20,58.90 L701.73,57.51 L701.30,56.31 L700.91,55.23 L700.54,54.20 L700.21,53.15 L699.90,52.00 L699.62,50.73 L699.37,49.41 L699.14,48.06 L698.96,46.71 L698.81,45.42 L698.70,44.20 L698.64,43.04 L698.63,41.91 L698.65,40.82 L698.71,39.80 L698.79,38.85 L698.90,38.00 L699.06,37.23 L699.27,36.53 L699.51,35.91 L699.75,35.38 L699.96,34.94 L700.10,34.60Z" fill="#f8766d" stroke="#222" stroke-width="1.4" stroke-linejoin="round"/><line x1="716.40" y1="95.10" x2="716.40" y2="190.50" stroke="#222" stroke-width="1.35"/><rect x="713.20" y="36.30" width="6.40" height="58.80" fill="none" stroke="#222" stroke-width="1.35"/><rect x="713.30" y="33.50" width="6.20" height="6.50" rx="0.8" fill="#000" fill-opacity="0.95"/><rect x="713.60" y="40.00" width="5.60" height="55.00" rx="0.8" fill="#000" fill-opacity="0.3"/><circle cx="715.95" cy="61.42" r="1.6" fill="#000" fill-opacity="0.45"/><circle cx="715.49" cy="94.16" r="1.6" fill="#000" fill-opacity="0.45"/><circle cx="716.77" cy="79.83" r="1.6" fill="#000" fill-opacity="0.45"/><circle cx="717.27" cy="42.41" r="1.6" fill="#000" fill-opacity="0.45"/><circle cx="716.73" cy="89.06" r="1.6" fill="#000" fill-opacity="0.45"/><circle cx="717.21" cy="80.36" r="1.6" fill="#000" fill-opacity="0.45"/><circle cx="716.46" cy="47.66" r="1.6" fill="#000" fill-opacity="0.45"/><circle cx="717.27" cy="67.74" r="1.6" fill="#000" fill-opacity="0.45"/><circle cx="717.25" cy="84.26" r="1.6" fill="#000" fill-opacity="0.45"/><circle cx="717.42" cy="72.12" r="1.6" fill="#000" fill-opacity="0.45"/><circle cx="716.90" cy="77.56" r="1.6" fill="#000" fill-opacity="0.45"/><circle cx="715.18" cy="52.65" r="1.6" fill="#000" fill-opacity="0.45"/><circle cx="716.04" cy="47.32" r="1.6" fill="#000" fill-opacity="0.45"/><circle cx="717.27" cy="45.77" r="1.6" fill="#000" fill-opacity="0.45"/><circle cx="716.73" cy="70.72" r="1.6" fill="#000" fill-opacity="0.45"/><circle cx="716.87" cy="74.44" r="1.6" fill="#000" fill-opacity="0.45"/><circle cx="715.11" cy="66.91" r="1.6" fill="#000" fill-opacity="0.45"/><circle cx="717.05" cy="83.87" r="1.6" fill="#000" fill-opacity="0.45"/><circle cx="716.49" cy="67.66" r="1.6" fill="#000" fill-opacity="0.45"/><circle cx="715.27" cy="76.26" r="1.6" fill="#000" fill-opacity="0.45"/><circle cx="715.76" cy="80.52" r="1.6" fill="#000" fill-opacity="0.45"/><circle cx="715.79" cy="44.09" r="1.6" fill="#000" fill-opacity="0.45"/><circle cx="715.63" cy="80.11" r="1.6" fill="#000" fill-opacity="0.45"/><circle cx="717.64" cy="80.69" r="1.6" fill="#000" fill-opacity="0.45"/><circle cx="716.09" cy="67.17" r="1.6" fill="#000" fill-opacity="0.45"/><circle cx="716.88" cy="140.98" r="1.6" fill="#000" fill-opacity="0.45"/><circle cx="716.70" cy="168.63" r="1.6" fill="#000" fill-opacity="0.45"/><circle cx="715.30" cy="156.71" r="1.6" fill="#000" fill-opacity="0.45"/><circle cx="715.76" cy="109.15" r="1.6" fill="#000" fill-opacity="0.45"/><circle cx="715.89" cy="166.35" r="1.6" fill="#000" fill-opacity="0.45"/><circle cx="715.13" cy="149.51" r="1.6" fill="#000" fill-opacity="0.45"/><circle cx="715.80" cy="100.82" r="1.6" fill="#000" fill-opacity="0.45"/><circle cx="716.90" cy="159.51" r="1.6" fill="#000" fill-opacity="0.45"/><circle cx="715.86" cy="159.87" r="1.6" fill="#000" fill-opacity="0.45"/><circle cx="716.31" cy="144.59" r="1.6" fill="#000" fill-opacity="0.45"/><circle cx="715.41" cy="139.77" r="1.6" fill="#000" fill-opacity="0.45"/><circle cx="715.62" cy="180.79" r="1.6" fill="#000" fill-opacity="0.45"/><circle cx="717.53" cy="188.90" r="1.6" fill="#000" fill-opacity="0.45"/><circle cx="716.29" cy="96.68" r="1.6" fill="#000" fill-opacity="0.45"/><path d="M759.50,46.50 L759.60,50.16 L759.73,55.24 L759.89,61.25 L760.07,67.70 L760.24,74.12 L760.40,80.00 L760.54,85.42 L760.67,90.78 L760.80,96.10 L760.94,101.40 L761.10,106.69 L761.30,112.00 L761.54,117.30 L761.81,122.56 L762.11,127.83 L762.41,133.11 L762.71,138.46 L763.00,143.90 L763.28,149.64 L763.58,155.70 L763.87,161.82 L764.14,167.74 L764.39,173.19 L764.60,177.90 L764.73,181.40 L764.77,183.81 L764.79,185.75 L764.84,187.84 L764.96,190.72 L765.20,195.00 L765.59,201.09 L766.10,208.56 L766.69,216.81 L767.31,225.23 L767.92,233.23 L768.50,240.20 L769.07,246.26 L769.66,251.93 L770.26,257.17 L770.81,261.95 L771.31,266.24 L771.70,270.00 L771.98,273.06 L772.17,275.40 L772.30,277.26 L772.38,278.84 L772.44,280.38 L772.50,282.10 L772.55,283.80 L772.59,285.27 L772.59,286.69 L772.58,288.26 L772.55,290.17 L772.50,292.60 L772.44,295.73 L772.36,299.44 L772.26,303.49 L772.14,307.63 L771.99,311.62 L771.80,315.20 L771.55,318.45 L771.25,321.59 L770.91,324.56 L770.57,327.35 L770.26,329.91 L770.00,332.20 L769.79,334.24 L769.60,336.07 L769.44,337.66 L769.30,339.02 L769.19,340.14 L769.10,341.00 L740.90,341.00 L740.81,340.14 L740.70,339.02 L740.56,337.66 L740.40,336.07 L740.21,334.24 L740.00,332.20 L739.74,329.91 L739.43,327.35 L739.09,324.56 L738.75,321.59 L738.45,318.45 L738.20,315.20 L738.01,311.62 L737.86,307.63 L737.74,303.49 L737.64,299.44 L737.56,295.73 L737.50,292.60 L737.45,290.17 L737.42,288.26 L737.41,286.69 L737.41,285.27 L737.45,283.80 L737.50,282.10 L737.56,280.38 L737.62,278.84 L737.70,277.26 L737.83,275.40 L738.02,273.06 L738.30,270.00 L738.69,266.24 L739.19,261.95 L739.74,257.17 L740.34,251.93 L740.93,246.26 L741.50,240.20 L742.08,233.23 L742.69,225.23 L743.31,216.81 L743.90,208.56 L744.41,201.09 L744.80,195.00 L745.04,190.72 L745.16,187.84 L745.21,185.75 L745.23,183.81 L745.27,181.40 L745.40,177.90 L745.61,173.19 L745.86,167.74 L746.13,161.82 L746.42,155.70 L746.72,149.64 L747.00,143.90 L747.29,138.46 L747.59,133.11 L747.89,127.83 L748.19,122.56 L748.46,117.30 L748.70,112.00 L748.90,106.69 L749.06,101.40 L749.20,96.10 L749.33,90.78 L749.46,85.42 L749.60,80.00 L749.76,74.12 L749.93,67.70 L750.11,61.25 L750.27,55.24 L750.40,50.16 L750.50,46.50Z" fill="#5bc8cf" stroke="#222" stroke-width="1.4" stroke-linejoin="round"/><line x1="755.00" y1="46.50" x2="755.00" y2="183.50" stroke="#222" stroke-width="1.35"/><line x1="755.00" y1="315.20" x2="755.00" y2="341.00" stroke="#222" stroke-width="1.35"/><rect x="751.75" y="183.50" width="6.50" height="131.70" fill="none" stroke="#222" stroke-width="1.35"/><line x1="751.75" y1="262.90" x2="758.25" y2="262.90" stroke="#222" stroke-width="1.8"/><rect x="752.50" y="336.50" width="5.00" height="6.10" rx="2" fill="#000" fill-opacity="1.0"/><circle cx="756.22" cy="158.42" r="1.6" fill="#000" fill-opacity="0.45"/><circle cx="754.40" cy="107.85" r="1.6" fill="#000" fill-opacity="0.45"/><circle cx="756.16" cy="75.14" r="1.6" fill="#000" fill-opacity="0.45"/><circle cx="755.21" cy="75.26" r="1.6" fill="#000" fill-opacity="0.45"/><circle cx="755.06" cy="65.85" r="1.6" fill="#000" fill-opacity="0.45"/><circle cx="754.04" cy="176.55" r="1.6" fill="#000" fill-opacity="0.45"/><circle cx="755.02" cy="158.46" r="1.6" fill="#000" fill-opacity="0.45"/><circle cx="755.53" cy="167.56" r="1.6" fill="#000" fill-opacity="0.45"/><circle cx="756.03" cy="78.08" r="1.6" fill="#000" fill-opacity="0.45"/><circle cx="753.76" cy="112.86" r="1.6" fill="#000" fill-opacity="0.45"/><circle cx="754.98" cy="183.47" r="1.6" fill="#000" fill-opacity="0.45"/><circle cx="754.49" cy="242.50" r="1.6" fill="#000" fill-opacity="0.45"/><circle cx="754.59" cy="201.57" r="1.6" fill="#000" fill-opacity="0.45"/><circle cx="755.88" cy="224.72" r="1.6" fill="#000" fill-opacity="0.45"/><circle cx="755.65" cy="183.23" r="1.6" fill="#000" fill-opacity="0.45"/><circle cx="754.01" cy="293.76" r="1.6" fill="#000" fill-opacity="0.45"/><circle cx="755.55" cy="305.28" r="1.6" fill="#000" fill-opacity="0.45"/><circle cx="754.45" cy="302.01" r="1.6" fill="#000" fill-opacity="0.45"/><circle cx="754.72" cy="232.13" r="1.6" fill="#000" fill-opacity="0.45"/><circle cx="755.23" cy="314.84" r="1.6" fill="#000" fill-opacity="0.45"/><circle cx="754.81" cy="230.61" r="1.6" fill="#000" fill-opacity="0.45"/><circle cx="753.83" cy="219.32" r="1.6" fill="#000" fill-opacity="0.45"/><circle cx="755.87" cy="196.43" r="1.6" fill="#000" fill-opacity="0.45"/><circle cx="756.13" cy="220.70" r="1.6" fill="#000" fill-opacity="0.45"/><circle cx="754.39" cy="215.91" r="1.6" fill="#000" fill-opacity="0.45"/><circle cx="754.19" cy="250.45" r="1.6" fill="#000" fill-opacity="0.45"/><circle cx="756.19" cy="232.28" r="1.6" fill="#000" fill-opacity="0.45"/><circle cx="755.81" cy="299.72" r="1.6" fill="#000" fill-opacity="0.45"/><circle cx="756.07" cy="266.28" r="1.6" fill="#000" fill-opacity="0.45"/><circle cx="755.13" cy="307.17" r="1.6" fill="#000" fill-opacity="0.45"/><circle cx="753.83" cy="277.98" r="1.6" fill="#000" fill-opacity="0.45"/><circle cx="754.87" cy="279.67" r="1.6" fill="#000" fill-opacity="0.45"/><circle cx="755.38" cy="282.35" r="1.6" fill="#000" fill-opacity="0.45"/><circle cx="753.83" cy="220.78" r="1.6" fill="#000" fill-opacity="0.45"/><circle cx="754.03" cy="305.33" r="1.6" fill="#000" fill-opacity="0.45"/><circle cx="754.59" cy="245.33" r="1.6" fill="#000" fill-opacity="0.45"/><circle cx="755.62" cy="222.31" r="1.6" fill="#000" fill-opacity="0.45"/><circle cx="754.38" cy="311.87" r="1.6" fill="#000" fill-opacity="0.45"/><circle cx="754.48" cy="269.59" r="1.6" fill="#000" fill-opacity="0.45"/><circle cx="754.73" cy="256.57" r="1.6" fill="#000" fill-opacity="0.45"/><circle cx="754.12" cy="319.35" r="1.6" fill="#000" fill-opacity="0.45"/><circle cx="756.06" cy="320.40" r="1.6" fill="#000" fill-opacity="0.45"/><circle cx="754.27" cy="327.92" r="1.6" fill="#000" fill-opacity="0.45"/><circle cx="756.29" cy="338.56" r="1.6" fill="#000" fill-opacity="0.45"/><circle cx="754.06" cy="326.70" r="1.6" fill="#000" fill-opacity="0.45"/><circle cx="753.94" cy="320.00" r="1.6" fill="#000" fill-opacity="0.45"/><line x1="442.90" y1="120.48" x2="527.50" y2="120.48" stroke="#a9a9a9" stroke-width="1.6" stroke-dasharray="5.6 5.85"/><line x1="442.5" y1="16.6" x2="442.5" y2="360.40000000000003" stroke="#000" stroke-width="1.6"/><line x1="439.70" y1="343.80" x2="442.50" y2="343.80" stroke="#222" stroke-width="1.3"/><text x="436.70" y="346.70" font-size="10.5" text-anchor="end" fill="#4d4d4d" stroke="#4d4d4d" stroke-width="0.35">0.00</text><line x1="439.70" y1="265.83" x2="442.50" y2="265.83" stroke="#222" stroke-width="1.3"/><text x="436.70" y="268.73" font-size="10.5" text-anchor="end" fill="#4d4d4d" stroke="#4d4d4d" stroke-width="0.35">0.25</text><line x1="439.70" y1="187.85" x2="442.50" y2="187.85" stroke="#222" stroke-width="1.3"/><text x="436.70" y="190.75" font-size="10.5" text-anchor="end" fill="#4d4d4d" stroke="#4d4d4d" stroke-width="0.35">0.50</text><line x1="439.70" y1="109.88" x2="442.50" y2="109.88" stroke="#222" stroke-width="1.3"/><text x="436.70" y="112.78" font-size="10.5" text-anchor="end" fill="#4d4d4d" stroke="#4d4d4d" stroke-width="0.35">0.75</text><line x1="439.70" y1="31.90" x2="442.50" y2="31.90" stroke="#222" stroke-width="1.3"/><text x="436.70" y="34.80" font-size="10.5" text-anchor="end" fill="#4d4d4d" stroke="#4d4d4d" stroke-width="0.35">1.00</text><line x1="441.7" y1="359.6" x2="527.5" y2="359.6" stroke="#000" stroke-width="1.6"/><line x1="465.60" y1="359.60" x2="465.60" y2="362.40" stroke="#222" stroke-width="1.3"/><line x1="504.10" y1="359.60" x2="504.10" y2="362.40" stroke="#222" stroke-width="1.3"/><text x="412.20" y="184.10" font-size="10.8" text-anchor="middle" fill="#000" stroke="#000" stroke-width="0.35" transform="rotate(-90 412.20 184.10)">Prediction score</text><text x="442.60" y="12.90" font-size="10.8" text-anchor="start" fill="#000" stroke="#000" stroke-width="0.35">study</text><text x="0" y="0" font-size="10.8" text-anchor="end" fill="#4d4d4d" stroke="#4d4d4d" stroke-width="0.35" transform="translate(463.50,363.70) rotate(-45) translate(0,7.6)">Cancer</text><text x="0" y="0" font-size="10.8" text-anchor="end" fill="#4d4d4d" stroke="#4d4d4d" stroke-width="0.35" transform="translate(504.30,363.70) rotate(-45) translate(0,7.6)">Non−cancer</text><line x1="568.20" y1="120.48" x2="652.80" y2="120.48" stroke="#a9a9a9" stroke-width="1.6" stroke-dasharray="5.6 5.85"/><line x1="567.8" y1="16.6" x2="567.8" y2="360.40000000000003" stroke="#000" stroke-width="1.6"/><line x1="565.00" y1="343.80" x2="567.80" y2="343.80" stroke="#222" stroke-width="1.3"/><text x="562.00" y="346.70" font-size="10.5" text-anchor="end" fill="#4d4d4d" stroke="#4d4d4d" stroke-width="0.35">0.00</text><line x1="565.00" y1="265.83" x2="567.80" y2="265.83" stroke="#222" stroke-width="1.3"/><text x="562.00" y="268.73" font-size="10.5" text-anchor="end" fill="#4d4d4d" stroke="#4d4d4d" stroke-width="0.35">0.25</text><line x1="565.00" y1="187.85" x2="567.80" y2="187.85" stroke="#222" stroke-width="1.3"/><text x="562.00" y="190.75" font-size="10.5" text-anchor="end" fill="#4d4d4d" stroke="#4d4d4d" stroke-width="0.35">0.50</text><line x1="565.00" y1="109.88" x2="567.80" y2="109.88" stroke="#222" stroke-width="1.3"/><text x="562.00" y="112.78" font-size="10.5" text-anchor="end" fill="#4d4d4d" stroke="#4d4d4d" stroke-width="0.35">0.75</text><line x1="565.00" y1="31.90" x2="567.80" y2="31.90" stroke="#222" stroke-width="1.3"/><text x="562.00" y="34.80" font-size="10.5" text-anchor="end" fill="#4d4d4d" stroke="#4d4d4d" stroke-width="0.35">1.00</text><line x1="567.0" y1="359.6" x2="652.8" y2="359.6" stroke="#000" stroke-width="1.6"/><line x1="590.90" y1="359.60" x2="590.90" y2="362.40" stroke="#222" stroke-width="1.3"/><line x1="629.40" y1="359.60" x2="629.40" y2="362.40" stroke="#222" stroke-width="1.3"/><text x="537.50" y="184.10" font-size="10.8" text-anchor="middle" fill="#000" stroke="#000" stroke-width="0.35" transform="rotate(-90 537.50 184.10)">Prediction score</text><text x="567.90" y="12.90" font-size="10.8" text-anchor="start" fill="#000" stroke="#000" stroke-width="0.35">1st validation</text><text x="0" y="0" font-size="10.8" text-anchor="end" fill="#4d4d4d" stroke="#4d4d4d" stroke-width="0.35" transform="translate(588.80,363.70) rotate(-45) translate(0,7.6)">Cancer</text><text x="0" y="0" font-size="10.8" text-anchor="end" fill="#4d4d4d" stroke="#4d4d4d" stroke-width="0.35" transform="translate(629.60,363.70) rotate(-45) translate(0,7.6)">Non−cancer</text><line x1="693.60" y1="120.48" x2="778.20" y2="120.48" stroke="#a9a9a9" stroke-width="1.6" stroke-dasharray="5.6 5.85"/><line x1="693.2" y1="16.6" x2="693.2" y2="360.40000000000003" stroke="#000" stroke-width="1.6"/><line x1="690.40" y1="343.80" x2="693.20" y2="343.80" stroke="#222" stroke-width="1.3"/><text x="687.40" y="346.70" font-size="10.5" text-anchor="end" fill="#4d4d4d" stroke="#4d4d4d" stroke-width="0.35">0.00</text><line x1="690.40" y1="265.83" x2="693.20" y2="265.83" stroke="#222" stroke-width="1.3"/><text x="687.40" y="268.73" font-size="10.5" text-anchor="end" fill="#4d4d4d" stroke="#4d4d4d" stroke-width="0.35">0.25</text><line x1="690.40" y1="187.85" x2="693.20" y2="187.85" stroke="#222" stroke-width="1.3"/><text x="687.40" y="190.75" font-size="10.5" text-anchor="end" fill="#4d4d4d" stroke="#4d4d4d" stroke-width="0.35">0.50</text><line x1="690.40" y1="109.88" x2="693.20" y2="109.88" stroke="#222" stroke-width="1.3"/><text x="687.40" y="112.78" font-size="10.5" text-anchor="end" fill="#4d4d4d" stroke="#4d4d4d" stroke-width="0.35">0.75</text><line x1="690.40" y1="31.90" x2="693.20" y2="31.90" stroke="#222" stroke-width="1.3"/><text x="687.40" y="34.80" font-size="10.5" text-anchor="end" fill="#4d4d4d" stroke="#4d4d4d" stroke-width="0.35">1.00</text><line x1="692.4000000000001" y1="359.6" x2="778.2" y2="359.6" stroke="#000" stroke-width="1.6"/><line x1="716.30" y1="359.60" x2="716.30" y2="362.40" stroke="#222" stroke-width="1.3"/><line x1="754.80" y1="359.60" x2="754.80" y2="362.40" stroke="#222" stroke-width="1.3"/><text x="662.90" y="184.10" font-size="10.8" text-anchor="middle" fill="#000" stroke="#000" stroke-width="0.35" transform="rotate(-90 662.90 184.10)">Prediction score</text><text x="693.30" y="12.90" font-size="10.8" text-anchor="start" fill="#000" stroke="#000" stroke-width="0.35">2nd validation</text><text x="0" y="0" font-size="10.8" text-anchor="end" fill="#4d4d4d" stroke="#4d4d4d" stroke-width="0.35" transform="translate(714.20,363.70) rotate(-45) translate(0,7.6)">Cancer</text><text x="0" y="0" font-size="10.8" text-anchor="end" fill="#4d4d4d" stroke="#4d4d4d" stroke-width="0.35" transform="translate(755.00,363.70) rotate(-45) translate(0,7.6)">Non−cancer</text><text x="398.70" y="9.80" font-size="14" text-anchor="start" fill="#000" stroke="#000" stroke-width="0.35">B</text><rect x="55.60" y="719" width="4" height="2.6" fill="#111"/><path d="M94.20,552.60 L94.41,553.96 L94.72,555.86 L95.07,558.09 L95.44,560.49 L95.76,562.85 L96.00,565.00 L96.15,566.68 L96.26,567.98 L96.32,569.26 L96.36,570.84 L96.38,573.08 L96.40,576.30 L96.41,580.85 L96.41,586.53 L96.39,592.86 L96.35,599.36 L96.29,605.57 L96.20,611.00 L96.08,615.65 L95.92,619.89 L95.74,623.84 L95.56,627.60 L95.37,631.28 L95.20,635.00 L95.04,638.56 L94.88,641.84 L94.72,645.04 L94.57,648.38 L94.43,652.06 L94.30,656.30 L94.19,661.19 L94.11,666.58 L94.03,672.31 L93.95,678.23 L93.84,684.18 L93.70,690.00 L93.51,695.95 L93.28,702.22 L93.02,708.52 L92.77,714.56 L92.52,720.05 L92.30,724.70 L92.10,728.51 L91.90,731.71 L91.71,734.37 L91.54,736.54 L91.40,738.30 L91.30,739.70 L77.10,739.70 L77.00,738.30 L76.86,736.54 L76.69,734.37 L76.50,731.71 L76.30,728.51 L76.10,724.70 L75.88,720.05 L75.63,714.56 L75.37,708.52 L75.12,702.22 L74.89,695.95 L74.70,690.00 L74.56,684.18 L74.45,678.23 L74.37,672.31 L74.29,666.58 L74.21,661.19 L74.10,656.30 L73.97,652.06 L73.83,648.38 L73.67,645.04 L73.52,641.84 L73.36,638.56 L73.20,635.00 L73.03,631.28 L72.84,627.60 L72.66,623.84 L72.48,619.89 L72.32,615.65 L72.20,611.00 L72.11,605.57 L72.05,599.36 L72.01,592.86 L71.99,586.53 L71.99,580.85 L72.00,576.30 L72.02,573.08 L72.04,570.84 L72.07,569.26 L72.14,567.98 L72.25,566.68 L72.40,565.00 L72.64,562.85 L72.96,560.49 L73.32,558.09 L73.68,555.86 L73.99,553.96 L74.20,552.60Z" fill="#22b2a9" stroke="#222" stroke-width="1.4" stroke-linejoin="round"/><line x1="84.20" y1="552.60" x2="84.20" y2="580.90" stroke="#222" stroke-width="1.35"/><line x1="84.20" y1="678.30" x2="84.20" y2="739.70" stroke="#222" stroke-width="1.35"/><rect x="81.95" y="580.90" width="4.50" height="97.40" fill="none" stroke="#222" stroke-width="1.35"/><line x1="81.95" y1="635.50" x2="86.45" y2="635.50" stroke="#222" stroke-width="1.8"/><circle cx="82.97" cy="616.29" r="1.6" fill="#000" fill-opacity="0.45"/><circle cx="83.48" cy="596.96" r="1.6" fill="#000" fill-opacity="0.45"/><circle cx="85.36" cy="659.09" r="1.6" fill="#000" fill-opacity="0.45"/><circle cx="83.94" cy="692.94" r="1.6" fill="#000" fill-opacity="0.45"/><circle cx="84.27" cy="629.81" r="1.6" fill="#000" fill-opacity="0.45"/><circle cx="83.71" cy="622.85" r="1.6" fill="#000" fill-opacity="0.45"/><circle cx="83.53" cy="563.67" r="1.6" fill="#000" fill-opacity="0.45"/><circle cx="83.08" cy="733.92" r="1.6" fill="#000" fill-opacity="0.45"/><circle cx="84.59" cy="646.64" r="1.6" fill="#000" fill-opacity="0.45"/><path d="M112.70,467.20 L112.79,472.91 L112.92,480.77 L113.06,490.10 L113.22,500.21 L113.36,510.40 L113.49,520.00 L113.59,529.40 L113.69,539.24 L113.79,549.17 L113.87,558.84 L113.94,567.90 L114.00,576.00 L114.04,582.41 L114.06,587.26 L114.06,591.50 L114.07,596.07 L114.08,601.93 L114.10,610.00 L114.13,621.48 L114.16,635.85 L114.20,651.50 L114.25,666.81 L114.31,680.19 L114.40,690.00 L114.50,695.68 L114.61,698.40 L114.74,699.18 L114.89,699.03 L115.07,698.96 L115.30,700.00 L115.58,702.02 L115.90,704.19 L116.26,706.45 L116.63,708.73 L117.02,710.97 L117.40,713.10 L117.78,715.12 L118.18,717.08 L118.59,718.99 L119.00,720.89 L119.40,722.78 L119.80,724.70 L120.20,726.63 L120.62,728.57 L121.04,730.51 L121.43,732.44 L121.79,734.37 L122.10,736.30 L122.35,738.27 L122.57,740.30 L122.74,742.32 L122.89,744.29 L123.01,746.13 L123.10,747.80 L123.16,749.24 L123.20,750.49 L123.20,751.61 L123.18,752.69 L123.15,753.80 L123.10,755.00 L123.03,756.39 L122.92,757.93 L122.80,759.50 L122.68,760.97 L122.57,762.21 L122.50,763.10 L99.10,763.10 L99.03,762.21 L98.92,760.97 L98.80,759.50 L98.68,757.93 L98.57,756.39 L98.50,755.00 L98.45,753.80 L98.42,752.69 L98.40,751.61 L98.40,750.49 L98.44,749.24 L98.50,747.80 L98.59,746.13 L98.71,744.29 L98.86,742.32 L99.03,740.30 L99.25,738.27 L99.50,736.30 L99.81,734.37 L100.17,732.44 L100.56,730.51 L100.98,728.57 L101.40,726.63 L101.80,724.70 L102.20,722.78 L102.60,720.89 L103.01,718.99 L103.42,717.08 L103.82,715.12 L104.20,713.10 L104.58,710.97 L104.97,708.73 L105.34,706.45 L105.70,704.19 L106.02,702.02 L106.30,700.00 L106.53,698.96 L106.71,699.03 L106.86,699.18 L106.99,698.40 L107.10,695.68 L107.20,690.00 L107.29,680.19 L107.35,666.81 L107.40,651.50 L107.44,635.85 L107.47,621.48 L107.50,610.00 L107.52,601.93 L107.53,596.07 L107.54,591.50 L107.54,587.26 L107.56,582.41 L107.60,576.00 L107.66,567.90 L107.73,558.84 L107.81,549.17 L107.91,539.24 L108.01,529.40 L108.11,520.00 L108.24,510.40 L108.38,500.21 L108.54,490.10 L108.68,480.77 L108.81,472.91 L108.90,467.20Z" fill="#7f9fdc" stroke="#222" stroke-width="1.4" stroke-linejoin="round"/><line x1="110.80" y1="467.20" x2="110.80" y2="634.90" stroke="#222" stroke-width="1.35"/><rect x="108.50" y="634.90" width="4.60" height="125.10" fill="none" stroke="#222" stroke-width="1.35"/><rect x="108.40" y="466.50" width="4.80" height="78.50" rx="0.8" fill="#222" fill-opacity="0.75"/><rect x="108.60" y="545.00" width="4.40" height="145.00" rx="0.8" fill="#000" fill-opacity="0.3"/><rect x="108.30" y="752.00" width="5.00" height="12.00" rx="0.8" fill="#000" fill-opacity="0.85"/><rect x="108.40" y="738.00" width="4.80" height="14.00" rx="0.8" fill="#000" fill-opacity="0.5"/><rect x="108.50" y="700.00" width="4.60" height="38.00" rx="0.8" fill="#000" fill-opacity="0.3"/><circle cx="110.12" cy="659.42" r="1.6" fill="#000" fill-opacity="0.45"/><circle cx="110.20" cy="527.44" r="1.6" fill="#000" fill-opacity="0.45"/><circle cx="110.67" cy="556.15" r="1.6" fill="#000" fill-opacity="0.45"/><circle cx="111.64" cy="679.73" r="1.6" fill="#000" fill-opacity="0.45"/><circle cx="109.65" cy="661.65" r="1.6" fill="#000" fill-opacity="0.45"/><circle cx="111.30" cy="474.19" r="1.6" fill="#000" fill-opacity="0.45"/><circle cx="110.74" cy="666.74" r="1.6" fill="#000" fill-opacity="0.45"/><circle cx="109.60" cy="597.94" r="1.6" fill="#000" fill-opacity="0.45"/><circle cx="111.82" cy="554.31" r="1.6" fill="#000" fill-opacity="0.45"/><circle cx="111.65" cy="651.11" r="1.6" fill="#000" fill-opacity="0.45"/><circle cx="110.20" cy="683.81" r="1.6" fill="#000" fill-opacity="0.45"/><circle cx="109.97" cy="491.32" r="1.6" fill="#000" fill-opacity="0.45"/><circle cx="111.24" cy="583.49" r="1.6" fill="#000" fill-opacity="0.45"/><circle cx="111.33" cy="676.95" r="1.6" fill="#000" fill-opacity="0.45"/><circle cx="111.44" cy="611.36" r="1.6" fill="#000" fill-opacity="0.45"/><circle cx="110.92" cy="568.98" r="1.6" fill="#000" fill-opacity="0.45"/><circle cx="111.48" cy="475.82" r="1.6" fill="#000" fill-opacity="0.45"/><circle cx="111.81" cy="518.86" r="1.6" fill="#000" fill-opacity="0.45"/><circle cx="110.33" cy="610.95" r="1.6" fill="#000" fill-opacity="0.45"/><circle cx="110.20" cy="495.54" r="1.6" fill="#000" fill-opacity="0.45"/><circle cx="111.28" cy="608.89" r="1.6" fill="#000" fill-opacity="0.45"/><circle cx="109.77" cy="492.01" r="1.6" fill="#000" fill-opacity="0.45"/><circle cx="111.00" cy="583.95" r="1.6" fill="#000" fill-opacity="0.45"/><circle cx="110.14" cy="553.54" r="1.6" fill="#000" fill-opacity="0.45"/><circle cx="109.63" cy="601.04" r="1.6" fill="#000" fill-opacity="0.45"/><circle cx="110.71" cy="534.24" r="1.6" fill="#000" fill-opacity="0.45"/><circle cx="111.15" cy="680.84" r="1.6" fill="#000" fill-opacity="0.45"/><circle cx="110.74" cy="664.08" r="1.6" fill="#000" fill-opacity="0.45"/><circle cx="110.19" cy="519.35" r="1.6" fill="#000" fill-opacity="0.45"/><circle cx="111.29" cy="681.22" r="1.6" fill="#000" fill-opacity="0.45"/><circle cx="109.65" cy="706.91" r="1.6" fill="#000" fill-opacity="0.45"/><circle cx="111.22" cy="717.41" r="1.6" fill="#000" fill-opacity="0.45"/><circle cx="110.22" cy="713.10" r="1.6" fill="#000" fill-opacity="0.45"/><circle cx="111.82" cy="726.70" r="1.6" fill="#000" fill-opacity="0.45"/><circle cx="109.68" cy="702.47" r="1.6" fill="#000" fill-opacity="0.45"/><circle cx="110.61" cy="708.59" r="1.6" fill="#000" fill-opacity="0.45"/><circle cx="110.08" cy="727.54" r="1.6" fill="#000" fill-opacity="0.45"/><circle cx="111.37" cy="733.84" r="1.6" fill="#000" fill-opacity="0.45"/><circle cx="110.09" cy="717.77" r="1.6" fill="#000" fill-opacity="0.45"/><circle cx="110.35" cy="743.34" r="1.6" fill="#000" fill-opacity="0.45"/><circle cx="110.15" cy="735.10" r="1.6" fill="#000" fill-opacity="0.45"/><circle cx="111.43" cy="702.18" r="1.6" fill="#000" fill-opacity="0.45"/><circle cx="111.88" cy="706.22" r="1.6" fill="#000" fill-opacity="0.45"/><circle cx="110.05" cy="717.27" r="1.6" fill="#000" fill-opacity="0.45"/><circle cx="110.60" cy="702.28" r="1.6" fill="#000" fill-opacity="0.45"/><circle cx="111.88" cy="726.59" r="1.6" fill="#000" fill-opacity="0.45"/><circle cx="110.54" cy="698.05" r="1.6" fill="#000" fill-opacity="0.45"/><circle cx="111.94" cy="701.71" r="1.6" fill="#000" fill-opacity="0.45"/><circle cx="109.72" cy="697.81" r="1.6" fill="#000" fill-opacity="0.45"/><circle cx="110.54" cy="693.31" r="1.6" fill="#000" fill-opacity="0.45"/><path d="M190.40,473.90 L190.57,481.45 L190.81,492.10 L191.08,504.62 L191.39,517.76 L191.72,530.30 L192.05,541.00 L192.40,549.93 L192.80,558.11 L193.22,565.68 L193.62,572.79 L193.99,579.62 L194.30,586.30 L194.57,592.57 L194.84,598.26 L195.07,603.65 L195.24,609.04 L195.32,614.73 L195.30,621.00 L195.14,628.06 L194.86,635.71 L194.49,643.65 L194.08,651.59 L193.67,659.24 L193.30,666.30 L192.95,672.50 L192.58,678.03 L192.21,683.26 L191.86,688.57 L191.55,694.36 L191.30,701.00 L191.11,709.22 L190.97,718.86 L190.88,728.97 L190.80,738.60 L190.75,746.79 L190.70,752.60 L175.70,752.60 L175.65,746.79 L175.60,738.60 L175.52,728.97 L175.43,718.86 L175.29,709.22 L175.10,701.00 L174.85,694.36 L174.54,688.57 L174.19,683.26 L173.82,678.03 L173.45,672.50 L173.10,666.30 L172.73,659.24 L172.32,651.59 L171.91,643.65 L171.54,635.71 L171.26,628.06 L171.10,621.00 L171.08,614.73 L171.16,609.04 L171.33,603.65 L171.56,598.26 L171.83,592.57 L172.10,586.30 L172.41,579.62 L172.78,572.79 L173.18,565.68 L173.60,558.11 L174.00,549.93 L174.35,541.00 L174.68,530.30 L175.01,517.76 L175.32,504.62 L175.59,492.10 L175.83,481.45 L176.00,473.90Z" fill="#a6d11c" stroke="#222" stroke-width="1.4" stroke-linejoin="round"/><line x1="183.20" y1="473.90" x2="183.20" y2="563.10" stroke="#222" stroke-width="1.35"/><line x1="183.20" y1="669.70" x2="183.20" y2="752.60" stroke="#222" stroke-width="1.35"/><rect x="180.95" y="563.10" width="4.50" height="106.60" fill="none" stroke="#222" stroke-width="1.35"/><line x1="180.95" y1="617.50" x2="185.45" y2="617.50" stroke="#222" stroke-width="1.8"/><circle cx="184.12" cy="724.59" r="1.6" fill="#000" fill-opacity="0.45"/><circle cx="184.39" cy="678.43" r="1.6" fill="#000" fill-opacity="0.45"/><circle cx="182.79" cy="733.92" r="1.6" fill="#000" fill-opacity="0.45"/><circle cx="184.25" cy="525.76" r="1.6" fill="#000" fill-opacity="0.45"/><circle cx="182.08" cy="682.22" r="1.6" fill="#000" fill-opacity="0.45"/><circle cx="182.91" cy="659.38" r="1.6" fill="#000" fill-opacity="0.45"/><circle cx="182.80" cy="578.31" r="1.6" fill="#000" fill-opacity="0.45"/><circle cx="182.01" cy="521.22" r="1.6" fill="#000" fill-opacity="0.45"/><path d="M216.00,473.30 L216.43,480.92 L217.04,491.68 L217.76,504.32 L218.50,517.59 L219.19,530.23 L219.75,541.00 L220.19,549.97 L220.56,558.15 L220.89,565.71 L221.16,572.81 L221.40,579.62 L221.60,586.30 L221.76,592.57 L221.86,598.26 L221.93,603.65 L221.96,609.04 L221.97,614.73 L221.95,621.00 L221.90,628.06 L221.82,635.71 L221.72,643.65 L221.59,651.59 L221.45,659.24 L221.30,666.30 L221.15,672.52 L220.97,678.08 L220.79,683.35 L220.60,688.69 L220.40,694.45 L220.20,701.00 L219.98,709.04 L219.73,718.41 L219.48,728.22 L219.24,737.54 L219.04,745.47 L218.90,751.10 L200.70,751.10 L200.56,745.47 L200.36,737.54 L200.12,728.22 L199.87,718.41 L199.62,709.04 L199.40,701.00 L199.20,694.45 L199.00,688.69 L198.81,683.35 L198.63,678.08 L198.45,672.52 L198.30,666.30 L198.15,659.24 L198.01,651.59 L197.88,643.65 L197.78,635.71 L197.70,628.06 L197.65,621.00 L197.63,614.73 L197.64,609.04 L197.67,603.65 L197.74,598.26 L197.84,592.57 L198.00,586.30 L198.20,579.62 L198.44,572.81 L198.71,565.71 L199.04,558.15 L199.41,549.97 L199.85,541.00 L200.41,530.23 L201.10,517.59 L201.84,504.32 L202.56,491.68 L203.17,480.92 L203.60,473.30Z" fill="#22b2a9" stroke="#222" stroke-width="1.4" stroke-linejoin="round"/><line x1="209.80" y1="473.30" x2="209.80" y2="572.40" stroke="#222" stroke-width="1.35"/><line x1="209.80" y1="708.70" x2="209.80" y2="751.10" stroke="#222" stroke-width="1.35"/><rect x="207.55" y="572.40" width="4.50" height="136.30" fill="none" stroke="#222" stroke-width="1.35"/><line x1="207.55" y1="628.70" x2="212.05" y2="628.70" stroke="#222" stroke-width="1.8"/><circle cx="209.44" cy="550.79" r="1.6" fill="#000" fill-opacity="0.45"/><circle cx="208.90" cy="738.63" r="1.6" fill="#000" fill-opacity="0.45"/><circle cx="209.10" cy="741.07" r="1.6" fill="#000" fill-opacity="0.45"/><circle cx="210.57" cy="572.14" r="1.6" fill="#000" fill-opacity="0.45"/><circle cx="209.64" cy="701.52" r="1.6" fill="#000" fill-opacity="0.45"/><circle cx="209.74" cy="486.69" r="1.6" fill="#000" fill-opacity="0.45"/><circle cx="210.81" cy="576.61" r="1.6" fill="#000" fill-opacity="0.45"/><circle cx="209.47" cy="526.66" r="1.6" fill="#000" fill-opacity="0.45"/><circle cx="208.67" cy="722.36" r="1.6" fill="#000" fill-opacity="0.45"/><path d="M236.70,462.90 L236.70,478.25 L236.70,499.82 L236.70,525.20 L236.70,551.97 L236.70,577.71 L236.70,600.00 L236.70,619.66 L236.70,638.80 L236.70,656.91 L236.70,673.48 L236.70,688.01 L236.70,700.00 L236.77,708.83 L236.94,714.77 L237.14,718.68 L237.37,721.39 L237.60,723.75 L237.83,726.60 L238.03,729.68 L238.21,732.26 L238.39,734.49 L238.62,736.51 L238.95,738.47 L239.40,740.50 L240.03,742.59 L240.80,744.63 L241.67,746.61 L242.56,748.50 L243.43,750.30 L244.20,752.00 L244.92,753.57 L245.63,755.03 L246.32,756.39 L246.94,757.69 L247.48,758.95 L247.90,760.20 L248.17,761.51 L248.32,762.85 L248.38,764.16 L248.39,765.36 L248.38,766.36 L248.40,767.10 L224.40,767.10 L224.42,766.36 L224.41,765.36 L224.42,764.16 L224.48,762.85 L224.63,761.51 L224.90,760.20 L225.32,758.95 L225.86,757.69 L226.48,756.39 L227.17,755.03 L227.88,753.57 L228.60,752.00 L229.37,750.30 L230.24,748.50 L231.13,746.61 L232.00,744.63 L232.77,742.59 L233.40,740.50 L233.85,738.47 L234.18,736.51 L234.41,734.49 L234.59,732.26 L234.77,729.68 L234.97,726.60 L235.20,723.75 L235.43,721.39 L235.66,718.68 L235.86,714.77 L236.03,708.83 L236.10,700.00 L236.10,688.01 L236.10,673.48 L236.10,656.91 L236.10,638.80 L236.10,619.66 L236.10,600.00 L236.10,577.71 L236.10,551.97 L236.10,525.20 L236.10,499.82 L236.10,478.25 L236.10,462.90Z" fill="#7f9fdc" stroke="#222" stroke-width="1.4" stroke-linejoin="round"/><line x1="236.40" y1="462.90" x2="236.40" y2="726.60" stroke="#222" stroke-width="1.35"/><rect x="234.20" y="726.60" width="4.40" height="39.90" fill="none" stroke="#222" stroke-width="1.35"/><rect x="233.90" y="752.00" width="5.00" height="15.80" rx="0.8" fill="#000" fill-opacity="1.0"/><circle cx="237.15" cy="571.04" r="1.6" fill="#000" fill-opacity="0.45"/><circle cx="235.30" cy="664.63" r="1.6" fill="#000" fill-opacity="0.45"/><circle cx="235.35" cy="472.17" r="1.6" fill="#000" fill-opacity="0.45"/><circle cx="235.82" cy="704.98" r="1.6" fill="#000" fill-opacity="0.45"/><circle cx="237.36" cy="659.54" r="1.6" fill="#000" fill-opacity="0.45"/><circle cx="235.85" cy="552.18" r="1.6" fill="#000" fill-opacity="0.45"/><circle cx="236.68" cy="714.87" r="1.6" fill="#000" fill-opacity="0.45"/><circle cx="236.92" cy="531.95" r="1.6" fill="#000" fill-opacity="0.45"/><circle cx="235.86" cy="546.24" r="1.6" fill="#000" fill-opacity="0.45"/><circle cx="237.01" cy="463.99" r="1.6" fill="#000" fill-opacity="0.45"/><circle cx="236.72" cy="704.03" r="1.6" fill="#000" fill-opacity="0.45"/><circle cx="235.26" cy="711.07" r="1.6" fill="#000" fill-opacity="0.45"/><circle cx="236.34" cy="524.51" r="1.6" fill="#000" fill-opacity="0.45"/><circle cx="237.49" cy="714.63" r="1.6" fill="#000" fill-opacity="0.45"/><circle cx="235.80" cy="564.65" r="1.6" fill="#000" fill-opacity="0.45"/><circle cx="236.38" cy="576.07" r="1.6" fill="#000" fill-opacity="0.45"/><circle cx="235.64" cy="707.09" r="1.6" fill="#000" fill-opacity="0.45"/><circle cx="236.97" cy="674.08" r="1.6" fill="#000" fill-opacity="0.45"/><circle cx="237.05" cy="679.38" r="1.6" fill="#000" fill-opacity="0.45"/><circle cx="235.99" cy="622.71" r="1.6" fill="#000" fill-opacity="0.45"/><circle cx="236.07" cy="547.04" r="1.6" fill="#000" fill-opacity="0.45"/><circle cx="235.39" cy="668.73" r="1.6" fill="#000" fill-opacity="0.45"/><circle cx="237.01" cy="731.72" r="1.6" fill="#000" fill-opacity="0.45"/><circle cx="235.36" cy="733.17" r="1.6" fill="#000" fill-opacity="0.45"/><circle cx="236.53" cy="726.98" r="1.6" fill="#000" fill-opacity="0.45"/><circle cx="237.55" cy="735.45" r="1.6" fill="#000" fill-opacity="0.45"/><circle cx="237.57" cy="751.62" r="1.6" fill="#000" fill-opacity="0.45"/><circle cx="235.40" cy="733.68" r="1.6" fill="#000" fill-opacity="0.45"/><circle cx="236.40" cy="728.80" r="1.6" fill="#000" fill-opacity="0.45"/><circle cx="236.27" cy="746.58" r="1.6" fill="#000" fill-opacity="0.45"/><circle cx="236.20" cy="732.79" r="1.6" fill="#000" fill-opacity="0.45"/><circle cx="236.82" cy="743.99" r="1.6" fill="#000" fill-opacity="0.45"/><circle cx="237.23" cy="747.69" r="1.6" fill="#000" fill-opacity="0.45"/><circle cx="235.49" cy="745.27" r="1.6" fill="#000" fill-opacity="0.45"/><circle cx="235.91" cy="750.39" r="1.6" fill="#000" fill-opacity="0.45"/><circle cx="236.10" cy="742.44" r="1.6" fill="#000" fill-opacity="0.45"/><path d="M315.50,557.40 L315.47,559.98 L315.41,563.60 L315.36,567.87 L315.33,572.37 L315.37,576.72 L315.50,580.50 L315.75,583.72 L316.10,586.69 L316.52,589.51 L316.96,592.24 L317.40,594.98 L317.80,597.80 L318.17,600.78 L318.55,603.87 L318.92,606.97 L319.28,609.96 L319.61,612.74 L319.90,615.20 L320.18,617.18 L320.46,618.72 L320.71,620.06 L320.90,621.40 L321.01,622.97 L321.00,625.00 L320.85,627.48 L320.57,630.23 L320.21,633.21 L319.80,636.38 L319.39,639.69 L319.00,643.10 L318.62,646.67 L318.20,650.44 L317.78,654.35 L317.37,658.34 L317.01,662.35 L316.70,666.30 L316.46,670.50 L316.26,675.04 L316.11,679.60 L315.98,683.84 L315.88,687.42 L315.80,690.00 L301.40,690.00 L301.32,687.42 L301.22,683.84 L301.09,679.60 L300.94,675.04 L300.74,670.50 L300.50,666.30 L300.19,662.35 L299.83,658.34 L299.42,654.35 L299.00,650.44 L298.58,646.67 L298.20,643.10 L297.81,639.69 L297.40,636.38 L296.99,633.21 L296.63,630.23 L296.35,627.48 L296.20,625.00 L296.19,622.97 L296.30,621.40 L296.49,620.06 L296.74,618.72 L297.02,617.18 L297.30,615.20 L297.59,612.74 L297.92,609.96 L298.27,606.97 L298.65,603.87 L299.03,600.78 L299.40,597.80 L299.80,594.98 L300.24,592.24 L300.68,589.51 L301.10,586.69 L301.45,583.72 L301.70,580.50 L301.83,576.72 L301.87,572.37 L301.84,567.87 L301.79,563.60 L301.73,559.98 L301.70,557.40Z" fill="#a6d11c" stroke="#222" stroke-width="1.4" stroke-linejoin="round"/><line x1="308.60" y1="557.40" x2="308.60" y2="601.30" stroke="#222" stroke-width="1.35"/><line x1="308.60" y1="651.20" x2="308.60" y2="690.00" stroke="#222" stroke-width="1.35"/><rect x="306.40" y="601.30" width="4.40" height="49.90" fill="none" stroke="#222" stroke-width="1.35"/><line x1="306.40" y1="627.20" x2="310.80" y2="627.20" stroke="#222" stroke-width="1.8"/><circle cx="307.70" cy="655.16" r="1.6" fill="#000" fill-opacity="0.45"/><circle cx="307.84" cy="589.91" r="1.6" fill="#000" fill-opacity="0.45"/><circle cx="309.75" cy="577.39" r="1.6" fill="#000" fill-opacity="0.45"/><circle cx="308.08" cy="633.91" r="1.6" fill="#000" fill-opacity="0.45"/><circle cx="310.08" cy="609.68" r="1.6" fill="#000" fill-opacity="0.45"/><circle cx="307.79" cy="624.47" r="1.6" fill="#000" fill-opacity="0.45"/><circle cx="309.06" cy="664.52" r="1.6" fill="#000" fill-opacity="0.45"/><circle cx="307.41" cy="688.80" r="1.6" fill="#000" fill-opacity="0.45"/><circle cx="309.56" cy="620.14" r="1.6" fill="#000" fill-opacity="0.45"/><rect x="333.20" y="682.1" width="4.2" height="2.6" fill="#111"/><path d="M365.10,472.50 L365.21,480.09 L365.36,490.79 L365.54,503.36 L365.74,516.57 L365.93,529.20 L366.10,540.00 L366.25,548.99 L366.40,557.14 L366.54,564.70 L366.69,571.92 L366.84,579.04 L367.00,586.30 L367.16,593.69 L367.30,601.00 L367.46,608.21 L367.63,615.30 L367.84,622.24 L368.10,629.00 L368.42,635.56 L368.80,641.93 L369.21,648.15 L369.64,654.26 L370.07,660.30 L370.50,666.30 L370.94,672.38 L371.41,678.53 L371.89,684.60 L372.34,690.46 L372.76,695.98 L373.10,701.00 L373.38,705.40 L373.62,709.26 L373.82,712.77 L373.96,716.12 L374.06,719.50 L374.10,723.10 L374.07,726.93 L373.96,730.84 L373.81,734.78 L373.62,738.70 L373.43,742.56 L373.25,746.30 L373.06,750.15 L372.85,754.18 L372.62,758.15 L372.41,761.80 L372.23,764.86 L372.10,767.10 L351.50,767.10 L351.37,764.86 L351.19,761.80 L350.98,758.15 L350.75,754.18 L350.54,750.15 L350.35,746.30 L350.17,742.56 L349.98,738.70 L349.79,734.78 L349.64,730.84 L349.53,726.93 L349.50,723.10 L349.54,719.50 L349.64,716.12 L349.78,712.77 L349.98,709.26 L350.22,705.40 L350.50,701.00 L350.84,695.98 L351.26,690.46 L351.71,684.60 L352.19,678.53 L352.66,672.38 L353.10,666.30 L353.53,660.30 L353.96,654.26 L354.39,648.15 L354.80,641.93 L355.18,635.56 L355.50,629.00 L355.76,622.24 L355.97,615.30 L356.14,608.21 L356.30,601.00 L356.44,593.69 L356.60,586.30 L356.76,579.04 L356.91,571.92 L357.06,564.70 L357.20,557.14 L357.35,548.99 L357.50,540.00 L357.67,529.20 L357.86,516.57 L358.06,503.36 L358.24,490.79 L358.39,480.09 L358.50,472.50Z" fill="#7f9fdc" stroke="#222" stroke-width="1.4" stroke-linejoin="round"/><line x1="361.80" y1="472.50" x2="361.80" y2="604.20" stroke="#222" stroke-width="1.35"/><line x1="361.80" y1="749.20" x2="361.80" y2="767.10" stroke="#222" stroke-width="1.35"/><rect x="359.60" y="604.20" width="4.40" height="145.00" fill="none" stroke="#222" stroke-width="1.35"/><rect x="359.60" y="763.50" width="4.40" height="4.80" rx="2" fill="#000" fill-opacity="1.0"/><circle cx="362.79" cy="582.95" r="1.6" fill="#000" fill-opacity="0.45"/><circle cx="361.30" cy="477.33" r="1.6" fill="#000" fill-opacity="0.45"/><circle cx="361.05" cy="487.74" r="1.6" fill="#000" fill-opacity="0.45"/><circle cx="362.00" cy="600.43" r="1.6" fill="#000" fill-opacity="0.45"/><circle cx="361.49" cy="594.78" r="1.6" fill="#000" fill-opacity="0.45"/><circle cx="361.68" cy="586.33" r="1.6" fill="#000" fill-opacity="0.45"/><circle cx="362.47" cy="506.31" r="1.6" fill="#000" fill-opacity="0.45"/><circle cx="360.85" cy="596.83" r="1.6" fill="#000" fill-opacity="0.45"/><circle cx="362.09" cy="550.69" r="1.6" fill="#000" fill-opacity="0.45"/><circle cx="361.48" cy="500.73" r="1.6" fill="#000" fill-opacity="0.45"/><circle cx="361.09" cy="490.66" r="1.6" fill="#000" fill-opacity="0.45"/><circle cx="362.04" cy="505.65" r="1.6" fill="#000" fill-opacity="0.45"/><circle cx="361.09" cy="698.49" r="1.6" fill="#000" fill-opacity="0.45"/><circle cx="361.39" cy="605.65" r="1.6" fill="#000" fill-opacity="0.45"/><circle cx="361.04" cy="702.36" r="1.6" fill="#000" fill-opacity="0.45"/><circle cx="361.09" cy="649.27" r="1.6" fill="#000" fill-opacity="0.45"/><circle cx="361.92" cy="719.32" r="1.6" fill="#000" fill-opacity="0.45"/><circle cx="360.84" cy="613.17" r="1.6" fill="#000" fill-opacity="0.45"/><circle cx="361.92" cy="661.32" r="1.6" fill="#000" fill-opacity="0.45"/><circle cx="360.82" cy="696.68" r="1.6" fill="#000" fill-opacity="0.45"/><circle cx="362.27" cy="627.73" r="1.6" fill="#000" fill-opacity="0.45"/><circle cx="361.28" cy="663.42" r="1.6" fill="#000" fill-opacity="0.45"/><circle cx="362.89" cy="648.60" r="1.6" fill="#000" fill-opacity="0.45"/><circle cx="361.96" cy="649.29" r="1.6" fill="#000" fill-opacity="0.45"/><circle cx="361.60" cy="655.79" r="1.6" fill="#000" fill-opacity="0.45"/><circle cx="362.99" cy="729.32" r="1.6" fill="#000" fill-opacity="0.45"/><circle cx="361.07" cy="656.75" r="1.6" fill="#000" fill-opacity="0.45"/><circle cx="361.09" cy="709.56" r="1.6" fill="#000" fill-opacity="0.45"/><circle cx="362.76" cy="604.85" r="1.6" fill="#000" fill-opacity="0.45"/><circle cx="362.57" cy="665.44" r="1.6" fill="#000" fill-opacity="0.45"/><circle cx="362.72" cy="662.90" r="1.6" fill="#000" fill-opacity="0.45"/><circle cx="360.99" cy="670.83" r="1.6" fill="#000" fill-opacity="0.45"/><circle cx="361.92" cy="606.15" r="1.6" fill="#000" fill-opacity="0.45"/><circle cx="362.78" cy="696.90" r="1.6" fill="#000" fill-opacity="0.45"/><circle cx="362.09" cy="616.91" r="1.6" fill="#000" fill-opacity="0.45"/><circle cx="361.81" cy="657.77" r="1.6" fill="#000" fill-opacity="0.45"/><circle cx="361.28" cy="625.15" r="1.6" fill="#000" fill-opacity="0.45"/><circle cx="362.82" cy="679.57" r="1.6" fill="#000" fill-opacity="0.45"/><circle cx="361.78" cy="619.77" r="1.6" fill="#000" fill-opacity="0.45"/><circle cx="362.92" cy="720.70" r="1.6" fill="#000" fill-opacity="0.45"/><circle cx="360.90" cy="632.61" r="1.6" fill="#000" fill-opacity="0.45"/><circle cx="362.94" cy="740.75" r="1.6" fill="#000" fill-opacity="0.45"/><circle cx="360.73" cy="757.69" r="1.6" fill="#000" fill-opacity="0.45"/><circle cx="361.53" cy="765.67" r="1.6" fill="#000" fill-opacity="0.45"/><circle cx="362.09" cy="765.28" r="1.6" fill="#000" fill-opacity="0.45"/><circle cx="360.98" cy="763.84" r="1.6" fill="#000" fill-opacity="0.45"/><circle cx="361.13" cy="763.14" r="1.6" fill="#000" fill-opacity="0.45"/><circle cx="362.63" cy="756.28" r="1.6" fill="#000" fill-opacity="0.45"/><line x1="42.30" y1="546.81" x2="126.50" y2="546.81" stroke="#a9a9a9" stroke-width="1.6" stroke-dasharray="5.6 5.85"/><line x1="41.9" y1="442.4" x2="41.9" y2="786.8" stroke="#000" stroke-width="1.6"/><line x1="39.10" y1="770.20" x2="41.90" y2="770.20" stroke="#222" stroke-width="1.3"/><text x="36.10" y="773.10" font-size="10.5" text-anchor="end" fill="#4d4d4d" stroke="#4d4d4d" stroke-width="0.35">0.00</text><line x1="39.10" y1="692.20" x2="41.90" y2="692.20" stroke="#222" stroke-width="1.3"/><text x="36.10" y="695.10" font-size="10.5" text-anchor="end" fill="#4d4d4d" stroke="#4d4d4d" stroke-width="0.35">0.25</text><line x1="39.10" y1="614.20" x2="41.90" y2="614.20" stroke="#222" stroke-width="1.3"/><text x="36.10" y="617.10" font-size="10.5" text-anchor="end" fill="#4d4d4d" stroke="#4d4d4d" stroke-width="0.35">0.50</text><line x1="39.10" y1="536.20" x2="41.90" y2="536.20" stroke="#222" stroke-width="1.3"/><text x="36.10" y="539.10" font-size="10.5" text-anchor="end" fill="#4d4d4d" stroke="#4d4d4d" stroke-width="0.35">0.75</text><line x1="39.10" y1="458.20" x2="41.90" y2="458.20" stroke="#222" stroke-width="1.3"/><text x="36.10" y="461.10" font-size="10.5" text-anchor="end" fill="#4d4d4d" stroke="#4d4d4d" stroke-width="0.35">1.00</text><line x1="41.1" y1="786" x2="126.5" y2="786" stroke="#000" stroke-width="1.6"/><line x1="57.60" y1="786.00" x2="57.60" y2="788.80" stroke="#222" stroke-width="1.3"/><line x1="84.20" y1="786.00" x2="84.20" y2="788.80" stroke="#222" stroke-width="1.3"/><line x1="110.80" y1="786.00" x2="110.80" y2="788.80" stroke="#222" stroke-width="1.3"/><text x="11.60" y="610.50" font-size="10.8" text-anchor="middle" fill="#000" stroke="#000" stroke-width="0.35" transform="rotate(-90 11.60 610.50)">Prediction score</text><text x="42.20" y="438.20" font-size="10.8" text-anchor="start" fill="#000" stroke="#000" stroke-width="0.35">study</text><text x="0" y="0" font-size="10.8" text-anchor="end" fill="#4d4d4d" stroke="#4d4d4d" stroke-width="0.35" transform="translate(58.90,790.50) rotate(-45) translate(0,7.6)">CAG</text><text x="0" y="0" font-size="10.8" text-anchor="end" fill="#4d4d4d" stroke="#4d4d4d" stroke-width="0.35" transform="translate(86.10,790.50) rotate(-45) translate(0,7.6)">CNAG</text><text x="0" y="0" font-size="10.8" text-anchor="end" fill="#4d4d4d" stroke="#4d4d4d" stroke-width="0.35" transform="translate(110.80,790.50) rotate(-45) translate(0,7.6)">Healthy</text><line x1="167.90" y1="546.81" x2="252.10" y2="546.81" stroke="#a9a9a9" stroke-width="1.6" stroke-dasharray="5.6 5.85"/><line x1="167.5" y1="442.4" x2="167.5" y2="786.8" stroke="#000" stroke-width="1.6"/><line x1="164.70" y1="770.20" x2="167.50" y2="770.20" stroke="#222" stroke-width="1.3"/><text x="161.70" y="773.10" font-size="10.5" text-anchor="end" fill="#4d4d4d" stroke="#4d4d4d" stroke-width="0.35">0.00</text><line x1="164.70" y1="692.20" x2="167.50" y2="692.20" stroke="#222" stroke-width="1.3"/><text x="161.70" y="695.10" font-size="10.5" text-anchor="end" fill="#4d4d4d" stroke="#4d4d4d" stroke-width="0.35">0.25</text><line x1="164.70" y1="614.20" x2="167.50" y2="614.20" stroke="#222" stroke-width="1.3"/><text x="161.70" y="617.10" font-size="10.5" text-anchor="end" fill="#4d4d4d" stroke="#4d4d4d" stroke-width="0.35">0.50</text><line x1="164.70" y1="536.20" x2="167.50" y2="536.20" stroke="#222" stroke-width="1.3"/><text x="161.70" y="539.10" font-size="10.5" text-anchor="end" fill="#4d4d4d" stroke="#4d4d4d" stroke-width="0.35">0.75</text><line x1="164.70" y1="458.20" x2="167.50" y2="458.20" stroke="#222" stroke-width="1.3"/><text x="161.70" y="461.10" font-size="10.5" text-anchor="end" fill="#4d4d4d" stroke="#4d4d4d" stroke-width="0.35">1.00</text><line x1="166.7" y1="786" x2="252.1" y2="786" stroke="#000" stroke-width="1.6"/><line x1="183.20" y1="786.00" x2="183.20" y2="788.80" stroke="#222" stroke-width="1.3"/><line x1="209.80" y1="786.00" x2="209.80" y2="788.80" stroke="#222" stroke-width="1.3"/><line x1="236.40" y1="786.00" x2="236.40" y2="788.80" stroke="#222" stroke-width="1.3"/><text x="137.20" y="610.50" font-size="10.8" text-anchor="middle" fill="#000" stroke="#000" stroke-width="0.35" transform="rotate(-90 137.20 610.50)">Prediction score</text><text x="167.80" y="438.20" font-size="10.8" text-anchor="start" fill="#000" stroke="#000" stroke-width="0.35">1st validation</text><text x="0" y="0" font-size="10.8" text-anchor="end" fill="#4d4d4d" stroke="#4d4d4d" stroke-width="0.35" transform="translate(184.50,790.50) rotate(-45) translate(0,7.6)">CAG</text><text x="0" y="0" font-size="10.8" text-anchor="end" fill="#4d4d4d" stroke="#4d4d4d" stroke-width="0.35" transform="translate(211.70,790.50) rotate(-45) translate(0,7.6)">CNAG</text><text x="0" y="0" font-size="10.8" text-anchor="end" fill="#4d4d4d" stroke="#4d4d4d" stroke-width="0.35" transform="translate(236.40,790.50) rotate(-45) translate(0,7.6)">Healthy</text><line x1="293.30" y1="546.81" x2="377.50" y2="546.81" stroke="#a9a9a9" stroke-width="1.6" stroke-dasharray="5.6 5.85"/><line x1="292.9" y1="442.4" x2="292.9" y2="786.8" stroke="#000" stroke-width="1.6"/><line x1="290.10" y1="770.20" x2="292.90" y2="770.20" stroke="#222" stroke-width="1.3"/><text x="287.10" y="773.10" font-size="10.5" text-anchor="end" fill="#4d4d4d" stroke="#4d4d4d" stroke-width="0.35">0.00</text><line x1="290.10" y1="692.20" x2="292.90" y2="692.20" stroke="#222" stroke-width="1.3"/><text x="287.10" y="695.10" font-size="10.5" text-anchor="end" fill="#4d4d4d" stroke="#4d4d4d" stroke-width="0.35">0.25</text><line x1="290.10" y1="614.20" x2="292.90" y2="614.20" stroke="#222" stroke-width="1.3"/><text x="287.10" y="617.10" font-size="10.5" text-anchor="end" fill="#4d4d4d" stroke="#4d4d4d" stroke-width="0.35">0.50</text><line x1="290.10" y1="536.20" x2="292.90" y2="536.20" stroke="#222" stroke-width="1.3"/><text x="287.10" y="539.10" font-size="10.5" text-anchor="end" fill="#4d4d4d" stroke="#4d4d4d" stroke-width="0.35">0.75</text><line x1="290.10" y1="458.20" x2="292.90" y2="458.20" stroke="#222" stroke-width="1.3"/><text x="287.10" y="461.10" font-size="10.5" text-anchor="end" fill="#4d4d4d" stroke="#4d4d4d" stroke-width="0.35">1.00</text><line x1="292.09999999999997" y1="786" x2="377.5" y2="786" stroke="#000" stroke-width="1.6"/><line x1="308.60" y1="786.00" x2="308.60" y2="788.80" stroke="#222" stroke-width="1.3"/><line x1="335.20" y1="786.00" x2="335.20" y2="788.80" stroke="#222" stroke-width="1.3"/><line x1="361.80" y1="786.00" x2="361.80" y2="788.80" stroke="#222" stroke-width="1.3"/><text x="262.60" y="610.50" font-size="10.8" text-anchor="middle" fill="#000" stroke="#000" stroke-width="0.35" transform="rotate(-90 262.60 610.50)">Prediction score</text><text x="293.20" y="438.20" font-size="10.8" text-anchor="start" fill="#000" stroke="#000" stroke-width="0.35">2nd validation</text><text x="0" y="0" font-size="10.8" text-anchor="end" fill="#4d4d4d" stroke="#4d4d4d" stroke-width="0.35" transform="translate(309.90,790.50) rotate(-45) translate(0,7.6)">CAG</text><text x="0" y="0" font-size="10.8" text-anchor="end" fill="#4d4d4d" stroke="#4d4d4d" stroke-width="0.35" transform="translate(337.10,790.50) rotate(-45) translate(0,7.6)">CNAG</text><text x="0" y="0" font-size="10.8" text-anchor="end" fill="#4d4d4d" stroke="#4d4d4d" stroke-width="0.35" transform="translate(361.80,790.50) rotate(-45) translate(0,7.6)">Healthy</text><text x="-0.30" y="431.00" font-size="14" text-anchor="start" fill="#000" stroke="#000" stroke-width="0.35">C</text><path d="M481.90,459.50 L482.06,459.66 L482.29,459.86 L482.56,460.11 L482.82,460.41 L483.05,460.78 L483.20,461.20 L483.35,461.66 L483.54,462.15 L483.69,462.70 L483.72,463.34 L483.55,464.09 L483.10,465.00 L482.28,466.06 L481.15,467.25 L479.82,468.56 L478.40,469.98 L477.02,471.50 L475.80,473.10 L474.67,474.83 L473.54,476.71 L472.45,478.68 L471.43,480.70 L470.53,482.73 L469.80,484.70 L469.27,486.50 L468.91,488.14 L468.68,489.78 L468.51,491.58 L468.34,493.70 L468.13,496.30 L467.87,499.51 L467.61,503.24 L467.36,507.29 L467.12,511.46 L466.90,515.56 L466.72,519.40 L466.57,522.52 L466.45,524.99 L466.35,527.39 L466.27,530.31 L466.21,534.32 L466.15,540.00 L466.11,546.96 L466.08,554.66 L466.07,563.44 L466.07,573.69 L466.06,585.75 L466.05,600.00 L466.03,618.58 L466.01,641.63 L465.99,666.50 L465.98,690.54 L465.96,711.09 L465.95,725.50 L465.25,725.50 L465.24,711.09 L465.22,690.54 L465.21,666.50 L465.19,641.63 L465.17,618.58 L465.15,600.00 L465.14,585.75 L465.13,573.69 L465.13,563.44 L465.12,554.66 L465.09,546.96 L465.05,540.00 L464.99,534.32 L464.93,530.31 L464.85,527.39 L464.75,524.99 L464.63,522.52 L464.48,519.40 L464.30,515.56 L464.08,511.46 L463.84,507.29 L463.59,503.24 L463.33,499.51 L463.07,496.30 L462.86,493.70 L462.69,491.58 L462.52,489.78 L462.29,488.14 L461.93,486.50 L461.40,484.70 L460.67,482.73 L459.77,480.70 L458.75,478.68 L457.66,476.71 L456.53,474.83 L455.40,473.10 L454.18,471.50 L452.80,469.98 L451.38,468.56 L450.05,467.25 L448.92,466.06 L448.10,465.00 L447.65,464.09 L447.48,463.34 L447.51,462.70 L447.66,462.15 L447.85,461.66 L448.00,461.20 L448.15,460.78 L448.38,460.41 L448.64,460.11 L448.91,459.86 L449.14,459.66 L449.30,459.50Z" fill="#fbb03b" stroke="#222" stroke-width="1.4" stroke-linejoin="round"/><line x1="465.60" y1="485.00" x2="465.60" y2="725.50" stroke="#222" stroke-width="1.35"/><rect x="462.40" y="459.50" width="6.40" height="25.50" fill="none" stroke="#222" stroke-width="1.35"/><rect x="462.10" y="458.80" width="7.00" height="11.20" rx="0.8" fill="#000" fill-opacity="1.0"/><rect x="462.30" y="470.00" width="6.60" height="18.00" rx="0.8" fill="#000" fill-opacity="0.6"/><circle cx="464.21" cy="580.53" r="1.6" fill="#000" fill-opacity="0.45"/><circle cx="465.16" cy="510.87" r="1.6" fill="#000" fill-opacity="0.45"/><circle cx="465.09" cy="545.04" r="1.6" fill="#000" fill-opacity="0.45"/><circle cx="464.49" cy="500.03" r="1.6" fill="#000" fill-opacity="0.45"/><circle cx="467.35" cy="568.64" r="1.6" fill="#000" fill-opacity="0.45"/><circle cx="465.87" cy="490.69" r="1.6" fill="#000" fill-opacity="0.45"/><circle cx="463.57" cy="572.35" r="1.6" fill="#000" fill-opacity="0.45"/><circle cx="463.92" cy="581.56" r="1.6" fill="#000" fill-opacity="0.45"/><circle cx="465.82" cy="554.35" r="1.6" fill="#000" fill-opacity="0.45"/><circle cx="464.75" cy="557.48" r="1.6" fill="#000" fill-opacity="0.45"/><circle cx="465.96" cy="533.89" r="1.6" fill="#000" fill-opacity="0.45"/><circle cx="466.30" cy="534.53" r="1.6" fill="#000" fill-opacity="0.45"/><circle cx="465.33" cy="536.93" r="1.6" fill="#000" fill-opacity="0.45"/><circle cx="466.12" cy="488.66" r="1.6" fill="#000" fill-opacity="0.45"/><circle cx="464.44" cy="541.80" r="1.6" fill="#000" fill-opacity="0.45"/><circle cx="466.83" cy="573.05" r="1.6" fill="#000" fill-opacity="0.45"/><circle cx="464.19" cy="538.24" r="1.6" fill="#000" fill-opacity="0.45"/><circle cx="463.87" cy="539.95" r="1.6" fill="#000" fill-opacity="0.45"/><circle cx="465.29" cy="500.64" r="1.6" fill="#000" fill-opacity="0.45"/><circle cx="465.34" cy="496.46" r="1.6" fill="#000" fill-opacity="0.45"/><circle cx="463.58" cy="544.16" r="1.6" fill="#000" fill-opacity="0.45"/><circle cx="463.76" cy="558.55" r="1.6" fill="#000" fill-opacity="0.45"/><circle cx="466.82" cy="569.62" r="1.6" fill="#000" fill-opacity="0.45"/><circle cx="463.64" cy="544.31" r="1.6" fill="#000" fill-opacity="0.45"/><circle cx="465.06" cy="543.45" r="1.6" fill="#000" fill-opacity="0.45"/><circle cx="464.00" cy="594.40" r="1.6" fill="#000" fill-opacity="0.45"/><circle cx="467.78" cy="583.71" r="1.6" fill="#000" fill-opacity="0.45"/><circle cx="466.99" cy="569.46" r="1.6" fill="#000" fill-opacity="0.45"/><circle cx="467.72" cy="624.41" r="1.6" fill="#000" fill-opacity="0.45"/><circle cx="467.61" cy="661.98" r="1.6" fill="#000" fill-opacity="0.45"/><circle cx="464.13" cy="715.42" r="1.6" fill="#000" fill-opacity="0.45"/><circle cx="467.49" cy="699.34" r="1.6" fill="#000" fill-opacity="0.45"/><circle cx="464.94" cy="608.26" r="1.6" fill="#000" fill-opacity="0.45"/><circle cx="464.10" cy="695.28" r="1.6" fill="#000" fill-opacity="0.45"/><circle cx="464.61" cy="712.96" r="1.6" fill="#000" fill-opacity="0.45"/><circle cx="464.03" cy="702.77" r="1.6" fill="#000" fill-opacity="0.45"/><circle cx="467.45" cy="663.28" r="1.6" fill="#000" fill-opacity="0.45"/><circle cx="464.56" cy="626.25" r="1.6" fill="#000" fill-opacity="0.45"/><path d="M520.40,459.50 L520.56,459.66 L520.79,459.86 L521.06,460.11 L521.32,460.41 L521.55,460.78 L521.70,461.20 L521.82,461.66 L521.96,462.15 L522.05,462.70 L522.06,463.34 L521.92,464.09 L521.60,465.00 L521.04,466.06 L520.27,467.25 L519.37,468.56 L518.39,469.98 L517.41,471.50 L516.50,473.10 L515.61,474.83 L514.67,476.71 L513.73,478.68 L512.82,480.70 L512.00,482.73 L511.30,484.70 L510.75,486.63 L510.33,488.57 L509.98,490.51 L509.68,492.44 L509.36,494.37 L509.00,496.30 L508.59,498.25 L508.15,500.22 L507.71,502.19 L507.28,504.13 L506.86,506.01 L506.47,507.80 L506.10,509.41 L505.72,510.86 L505.37,512.24 L505.04,513.67 L504.76,515.25 L504.55,517.10 L504.41,519.27 L504.40,521.68 L504.40,524.24 L504.40,526.88 L504.40,529.49 L504.40,532.00 L504.40,534.53 L504.40,537.18 L504.40,539.81 L504.40,542.29 L504.40,544.46 L504.40,546.20 L504.40,547.27 L504.40,547.73 L504.42,547.90 L504.48,548.08 L504.58,548.58 L504.75,549.70 L505.02,551.59 L505.39,554.02 L505.81,556.78 L506.22,559.62 L506.56,562.34 L506.79,564.70 L506.87,566.72 L506.86,568.59 L506.78,570.33 L506.66,571.96 L506.55,573.51 L506.47,575.00 L506.42,576.47 L506.36,577.93 L506.30,579.29 L506.24,580.52 L506.19,581.54 L506.16,582.30 L502.04,582.30 L502.01,581.54 L501.96,580.52 L501.90,579.29 L501.84,577.93 L501.78,576.47 L501.73,575.00 L501.65,573.51 L501.54,571.96 L501.42,570.33 L501.34,568.59 L501.33,566.72 L501.41,564.70 L501.64,562.34 L501.98,559.62 L502.39,556.78 L502.81,554.02 L503.18,551.59 L503.45,549.70 L503.62,548.58 L503.72,548.08 L503.78,547.90 L503.80,547.73 L503.80,547.27 L503.80,546.20 L503.80,544.46 L503.80,542.29 L503.80,539.81 L503.80,537.18 L503.80,534.53 L503.80,532.00 L503.80,529.49 L503.80,526.88 L503.80,524.24 L503.80,521.68 L503.79,519.27 L503.65,517.10 L503.44,515.25 L503.16,513.67 L502.83,512.24 L502.48,510.86 L502.10,509.41 L501.73,507.80 L501.34,506.01 L500.92,504.13 L500.49,502.19 L500.05,500.22 L499.61,498.25 L499.20,496.30 L498.84,494.37 L498.52,492.44 L498.22,490.51 L497.87,488.57 L497.45,486.63 L496.90,484.70 L496.20,482.73 L495.38,480.70 L494.48,478.68 L493.53,476.71 L492.59,474.83 L491.70,473.10 L490.79,471.50 L489.81,469.98 L488.83,468.56 L487.93,467.25 L487.16,466.06 L486.60,465.00 L486.28,464.09 L486.14,463.34 L486.15,462.70 L486.24,462.15 L486.38,461.66 L486.50,461.20 L486.65,460.78 L486.88,460.41 L487.14,460.11 L487.41,459.86 L487.64,459.66 L487.80,459.50Z" fill="#e8432e" stroke="#222" stroke-width="1.4" stroke-linejoin="round"/><line x1="504.10" y1="492.20" x2="504.10" y2="582.30" stroke="#222" stroke-width="1.35"/><rect x="500.90" y="459.50" width="6.40" height="32.70" fill="none" stroke="#222" stroke-width="1.35"/><rect x="501.40" y="458.80" width="5.40" height="5.70" rx="0.8" fill="#000" fill-opacity="1.0"/><circle cx="503.63" cy="481.72" r="1.6" fill="#000" fill-opacity="0.45"/><circle cx="503.27" cy="464.36" r="1.6" fill="#000" fill-opacity="0.45"/><circle cx="505.23" cy="468.97" r="1.6" fill="#000" fill-opacity="0.45"/><circle cx="505.13" cy="488.15" r="1.6" fill="#000" fill-opacity="0.45"/><circle cx="504.84" cy="469.24" r="1.6" fill="#000" fill-opacity="0.45"/><circle cx="504.18" cy="467.26" r="1.6" fill="#000" fill-opacity="0.45"/><circle cx="503.74" cy="486.54" r="1.6" fill="#000" fill-opacity="0.45"/><circle cx="504.24" cy="495.30" r="1.6" fill="#000" fill-opacity="0.45"/><circle cx="505.09" cy="484.46" r="1.6" fill="#000" fill-opacity="0.45"/><circle cx="505.38" cy="466.87" r="1.6" fill="#000" fill-opacity="0.45"/><circle cx="503.83" cy="486.30" r="1.6" fill="#000" fill-opacity="0.45"/><circle cx="503.49" cy="492.51" r="1.6" fill="#000" fill-opacity="0.45"/><circle cx="504.30" cy="582.67" r="1.6" fill="#000" fill-opacity="0.45"/><circle cx="504.79" cy="560.61" r="1.6" fill="#000" fill-opacity="0.45"/><circle cx="503.26" cy="563.48" r="1.6" fill="#000" fill-opacity="0.45"/><circle cx="502.93" cy="574.03" r="1.6" fill="#000" fill-opacity="0.45"/><circle cx="503.46" cy="576.69" r="1.6" fill="#000" fill-opacity="0.45"/><circle cx="505.36" cy="570.37" r="1.6" fill="#000" fill-opacity="0.45"/><path d="M607.20,458.70 L607.37,458.89 L607.62,459.16 L607.91,459.47 L608.19,459.82 L608.44,460.17 L608.60,460.50 L608.74,460.79 L608.89,461.04 L609.00,461.31 L609.01,461.61 L608.86,462.00 L608.50,462.50 L607.86,463.07 L606.99,463.67 L605.95,464.36 L604.84,465.17 L603.73,466.17 L602.70,467.40 L601.72,468.96 L600.72,470.83 L599.72,472.88 L598.75,474.99 L597.83,477.03 L597.00,478.90 L596.25,480.59 L595.55,482.21 L594.91,483.76 L594.32,485.27 L593.78,486.74 L593.27,488.20 L592.80,489.53 L592.37,490.71 L591.98,491.85 L591.64,493.08 L591.36,494.52 L591.20,496.30 L591.20,498.59 L591.20,501.33 L591.20,504.28 L591.20,507.20 L591.20,509.86 L591.20,512.00 L591.26,513.54 L591.41,514.66 L591.58,515.51 L591.78,516.25 L591.98,517.03 L592.18,518.00 L592.40,519.17 L592.68,520.43 L592.96,521.72 L593.20,523.02 L593.37,524.29 L593.43,525.50 L593.34,526.65 L593.14,527.76 L592.86,528.84 L592.55,529.91 L592.25,530.96 L592.02,532.00 L591.83,532.73 L591.66,533.07 L591.50,533.41 L591.36,534.09 L591.24,535.50 L591.20,538.00 L591.20,541.97 L591.20,547.19 L591.20,553.12 L591.20,559.26 L591.20,565.06 L591.20,570.00 L591.20,573.94 L591.20,577.26 L591.21,580.25 L591.23,583.19 L591.24,586.34 L591.25,590.00 L591.24,594.53 L591.23,599.78 L591.21,605.25 L591.20,610.44 L591.20,614.86 L591.15,618.00 L590.65,618.00 L590.60,614.86 L590.60,610.44 L590.59,605.25 L590.57,599.78 L590.56,594.53 L590.55,590.00 L590.56,586.34 L590.57,583.19 L590.59,580.25 L590.60,577.26 L590.60,573.94 L590.60,570.00 L590.60,565.06 L590.60,559.26 L590.60,553.12 L590.60,547.19 L590.60,541.97 L590.60,538.00 L590.56,535.50 L590.44,534.09 L590.30,533.41 L590.14,533.07 L589.97,532.73 L589.78,532.00 L589.55,530.96 L589.25,529.91 L588.94,528.84 L588.66,527.76 L588.46,526.65 L588.37,525.50 L588.43,524.29 L588.60,523.02 L588.84,521.72 L589.12,520.43 L589.40,519.17 L589.62,518.00 L589.82,517.03 L590.02,516.25 L590.22,515.51 L590.39,514.66 L590.54,513.54 L590.60,512.00 L590.60,509.86 L590.60,507.20 L590.60,504.28 L590.60,501.33 L590.60,498.59 L590.60,496.30 L590.44,494.52 L590.16,493.08 L589.82,491.85 L589.43,490.71 L589.00,489.53 L588.53,488.20 L588.02,486.74 L587.48,485.27 L586.89,483.76 L586.25,482.21 L585.55,480.59 L584.80,478.90 L583.97,477.03 L583.05,474.99 L582.08,472.88 L581.08,470.83 L580.08,468.96 L579.10,467.40 L578.07,466.17 L576.96,465.17 L575.85,464.36 L574.81,463.67 L573.94,463.07 L573.30,462.50 L572.94,462.00 L572.79,461.61 L572.80,461.31 L572.91,461.04 L573.06,460.79 L573.20,460.50 L573.36,460.17 L573.61,459.82 L573.89,459.47 L574.18,459.16 L574.43,458.89 L574.60,458.70Z" fill="#fbb03b" stroke="#222" stroke-width="1.4" stroke-linejoin="round"/><line x1="590.90" y1="478.90" x2="590.90" y2="618.00" stroke="#222" stroke-width="1.35"/><rect x="587.90" y="459.00" width="6.00" height="19.90" fill="none" stroke="#222" stroke-width="1.35"/><rect x="587.60" y="458.20" width="6.60" height="7.80" rx="0.8" fill="#000" fill-opacity="1.0"/><rect x="587.90" y="466.00" width="6.00" height="13.00" rx="0.8" fill="#000" fill-opacity="0.55"/><circle cx="591.55" cy="560.85" r="1.6" fill="#000" fill-opacity="0.45"/><circle cx="588.91" cy="523.15" r="1.6" fill="#000" fill-opacity="0.45"/><circle cx="589.50" cy="484.66" r="1.6" fill="#000" fill-opacity="0.45"/><circle cx="590.63" cy="565.02" r="1.6" fill="#000" fill-opacity="0.45"/><circle cx="592.48" cy="550.75" r="1.6" fill="#000" fill-opacity="0.45"/><circle cx="589.81" cy="498.22" r="1.6" fill="#000" fill-opacity="0.45"/><circle cx="588.99" cy="570.13" r="1.6" fill="#000" fill-opacity="0.45"/><circle cx="590.32" cy="480.36" r="1.6" fill="#000" fill-opacity="0.45"/><circle cx="590.33" cy="494.68" r="1.6" fill="#000" fill-opacity="0.45"/><circle cx="591.23" cy="510.95" r="1.6" fill="#000" fill-opacity="0.45"/><circle cx="589.72" cy="561.29" r="1.6" fill="#000" fill-opacity="0.45"/><circle cx="590.80" cy="566.10" r="1.6" fill="#000" fill-opacity="0.45"/><circle cx="592.65" cy="498.60" r="1.6" fill="#000" fill-opacity="0.45"/><circle cx="589.50" cy="513.62" r="1.6" fill="#000" fill-opacity="0.45"/><circle cx="591.45" cy="493.22" r="1.6" fill="#000" fill-opacity="0.45"/><circle cx="592.03" cy="600.24" r="1.6" fill="#000" fill-opacity="0.45"/><path d="M645.70,458.70 L645.86,458.89 L646.09,459.16 L646.36,459.47 L646.62,459.82 L646.85,460.17 L647.00,460.50 L647.10,460.79 L647.20,461.04 L647.26,461.31 L647.24,461.61 L647.14,462.00 L646.90,462.50 L646.53,463.07 L646.04,463.67 L645.46,464.36 L644.79,465.17 L644.07,466.17 L643.30,467.40 L642.44,468.96 L641.46,470.83 L640.41,472.88 L639.37,474.99 L638.38,477.03 L637.50,478.90 L636.74,480.59 L636.05,482.21 L635.42,483.76 L634.82,485.27 L634.26,486.74 L633.70,488.20 L633.15,489.65 L632.61,491.08 L632.10,492.48 L631.63,493.82 L631.20,495.10 L630.83,496.30 L630.52,497.30 L630.27,498.11 L630.06,498.84 L629.89,499.65 L629.76,500.66 L629.70,502.00 L629.70,503.84 L629.70,506.09 L629.70,508.54 L629.70,510.99 L629.70,513.21 L629.70,515.00 L629.76,516.28 L629.91,517.20 L630.09,517.91 L630.29,518.52 L630.49,519.17 L630.68,520.00 L630.88,521.00 L631.12,522.06 L631.37,523.16 L631.58,524.28 L631.73,525.40 L631.77,526.50 L631.70,527.58 L631.52,528.65 L631.27,529.72 L631.00,530.80 L630.73,531.89 L630.52,533.00 L630.34,533.96 L630.17,534.74 L630.01,535.53 L629.86,536.54 L629.74,537.96 L629.70,540.00 L629.70,543.00 L629.70,546.85 L629.70,551.12 L629.70,555.37 L629.70,559.14 L629.70,562.00 L629.70,563.82 L629.70,564.93 L629.70,565.56 L629.70,565.96 L629.75,566.36 L629.85,567.00 L630.01,567.84 L630.23,568.70 L630.48,569.56 L630.74,570.41 L630.97,571.22 L631.15,572.00 L631.28,572.74 L631.40,573.46 L631.49,574.15 L631.56,574.81 L631.60,575.43 L631.62,576.00 L631.59,576.54 L631.51,577.07 L631.41,577.55 L631.30,577.98 L631.21,578.33 L631.15,578.60 L627.65,578.60 L627.59,578.33 L627.50,577.98 L627.39,577.55 L627.29,577.07 L627.21,576.54 L627.18,576.00 L627.20,575.43 L627.24,574.81 L627.31,574.15 L627.40,573.46 L627.52,572.74 L627.65,572.00 L627.83,571.22 L628.06,570.41 L628.32,569.56 L628.57,568.70 L628.79,567.84 L628.95,567.00 L629.05,566.36 L629.10,565.96 L629.10,565.56 L629.10,564.93 L629.10,563.82 L629.10,562.00 L629.10,559.14 L629.10,555.37 L629.10,551.12 L629.10,546.85 L629.10,543.00 L629.10,540.00 L629.06,537.96 L628.94,536.54 L628.79,535.53 L628.63,534.74 L628.46,533.96 L628.28,533.00 L628.07,531.89 L627.80,530.80 L627.53,529.72 L627.28,528.65 L627.10,527.58 L627.03,526.50 L627.07,525.40 L627.22,524.28 L627.43,523.16 L627.68,522.06 L627.92,521.00 L628.12,520.00 L628.31,519.17 L628.51,518.52 L628.71,517.91 L628.89,517.20 L629.04,516.28 L629.10,515.00 L629.10,513.21 L629.10,510.99 L629.10,508.54 L629.10,506.09 L629.10,503.84 L629.10,502.00 L629.04,500.66 L628.91,499.65 L628.74,498.84 L628.53,498.11 L628.27,497.30 L627.97,496.30 L627.60,495.10 L627.17,493.82 L626.70,492.48 L626.19,491.08 L625.65,489.65 L625.10,488.20 L624.54,486.74 L623.98,485.27 L623.38,483.76 L622.75,482.21 L622.06,480.59 L621.30,478.90 L620.42,477.03 L619.43,474.99 L618.39,472.88 L617.34,470.83 L616.36,468.96 L615.50,467.40 L614.73,466.17 L614.01,465.17 L613.34,464.36 L612.76,463.67 L612.27,463.07 L611.90,462.50 L611.66,462.00 L611.56,461.61 L611.54,461.31 L611.60,461.04 L611.70,460.79 L611.80,460.50 L611.95,460.17 L612.18,459.82 L612.44,459.47 L612.71,459.16 L612.94,458.89 L613.10,458.70Z" fill="#e8432e" stroke="#222" stroke-width="1.4" stroke-linejoin="round"/><line x1="629.40" y1="474.90" x2="629.40" y2="578.60" stroke="#222" stroke-width="1.35"/><rect x="626.20" y="459.00" width="6.40" height="15.90" fill="none" stroke="#222" stroke-width="1.35"/><rect x="626.60" y="458.20" width="5.60" height="5.80" rx="0.8" fill="#000" fill-opacity="1.0"/><rect x="626.60" y="464.00" width="5.60" height="11.00" rx="0.8" fill="#000" fill-opacity="0.45"/><circle cx="628.79" cy="474.45" r="1.6" fill="#000" fill-opacity="0.45"/><circle cx="629.78" cy="464.30" r="1.6" fill="#000" fill-opacity="0.45"/><circle cx="629.01" cy="478.62" r="1.6" fill="#000" fill-opacity="0.45"/><circle cx="629.25" cy="480.79" r="1.6" fill="#000" fill-opacity="0.45"/><circle cx="630.01" cy="488.37" r="1.6" fill="#000" fill-opacity="0.45"/><circle cx="630.45" cy="470.46" r="1.6" fill="#000" fill-opacity="0.45"/><circle cx="629.48" cy="520.44" r="1.6" fill="#000" fill-opacity="0.45"/><circle cx="628.72" cy="524.06" r="1.6" fill="#000" fill-opacity="0.45"/><circle cx="630.13" cy="520.58" r="1.6" fill="#000" fill-opacity="0.45"/><circle cx="629.53" cy="565.17" r="1.6" fill="#000" fill-opacity="0.45"/><circle cx="628.47" cy="578.17" r="1.6" fill="#000" fill-opacity="0.45"/><circle cx="629.68" cy="567.79" r="1.6" fill="#000" fill-opacity="0.45"/><path d="M732.70,460.70 L732.83,461.26 L733.02,462.03 L733.24,462.94 L733.46,463.94 L733.66,464.98 L733.80,466.00 L733.92,466.90 L734.04,467.72 L734.14,468.57 L734.18,469.58 L734.13,470.88 L733.95,472.60 L733.61,474.83 L733.13,477.50 L732.56,480.45 L731.95,483.55 L731.34,486.65 L730.80,489.60 L730.30,492.43 L729.79,495.27 L729.29,498.11 L728.82,500.94 L728.38,503.77 L728.00,506.60 L727.68,509.45 L727.41,512.33 L727.19,515.21 L726.99,518.05 L726.79,520.82 L726.60,523.50 L726.43,526.05 L726.29,528.51 L726.16,530.89 L726.02,533.25 L725.84,535.61 L725.60,538.00 L725.29,540.33 L724.92,542.56 L724.52,544.79 L724.09,547.14 L723.64,549.70 L723.20,552.60 L722.74,555.90 L722.24,559.54 L721.73,563.39 L721.23,567.36 L720.77,571.33 L720.35,575.20 L719.98,579.03 L719.63,582.91 L719.31,586.80 L719.02,590.63 L718.79,594.35 L718.62,597.90 L718.52,601.45 L718.49,605.09 L718.51,608.62 L718.55,611.83 L718.60,614.52 L718.62,616.50 L714.18,616.50 L714.20,614.52 L714.25,611.83 L714.29,608.62 L714.31,605.09 L714.28,601.45 L714.18,597.90 L714.01,594.35 L713.78,590.63 L713.49,586.80 L713.17,582.91 L712.82,579.03 L712.45,575.20 L712.03,571.33 L711.57,567.36 L711.07,563.39 L710.56,559.54 L710.06,555.90 L709.60,552.60 L709.16,549.70 L708.71,547.14 L708.28,544.79 L707.88,542.56 L707.51,540.33 L707.20,538.00 L706.96,535.61 L706.78,533.25 L706.64,530.89 L706.51,528.51 L706.37,526.05 L706.20,523.50 L706.01,520.82 L705.81,518.05 L705.61,515.21 L705.39,512.33 L705.12,509.45 L704.80,506.60 L704.42,503.77 L703.98,500.94 L703.51,498.11 L703.01,495.27 L702.50,492.43 L702.00,489.60 L701.46,486.65 L700.85,483.55 L700.24,480.45 L699.67,477.50 L699.19,474.83 L698.85,472.60 L698.67,470.88 L698.62,469.58 L698.66,468.57 L698.76,467.72 L698.88,466.90 L699.00,466.00 L699.14,464.98 L699.34,463.94 L699.56,462.94 L699.78,462.03 L699.97,461.26 L700.10,460.70Z" fill="#fbb03b" stroke="#222" stroke-width="1.4" stroke-linejoin="round"/><line x1="716.40" y1="460.70" x2="716.40" y2="466.40" stroke="#222" stroke-width="1.35"/><line x1="716.40" y1="526.90" x2="716.40" y2="616.50" stroke="#222" stroke-width="1.35"/><rect x="713.35" y="466.40" width="6.10" height="60.50" fill="none" stroke="#222" stroke-width="1.35"/><line x1="713.35" y1="489.00" x2="719.45" y2="489.00" stroke="#222" stroke-width="1.8"/><rect x="713.90" y="459.50" width="5.00" height="6.50" rx="0.8" fill="#000" fill-opacity="1.0"/><circle cx="716.77" cy="497.91" r="1.6" fill="#000" fill-opacity="0.45"/><circle cx="715.55" cy="515.99" r="1.6" fill="#000" fill-opacity="0.45"/><circle cx="715.88" cy="486.25" r="1.6" fill="#000" fill-opacity="0.45"/><circle cx="717.41" cy="470.86" r="1.6" fill="#000" fill-opacity="0.45"/><circle cx="716.96" cy="514.20" r="1.6" fill="#000" fill-opacity="0.45"/><circle cx="717.30" cy="468.37" r="1.6" fill="#000" fill-opacity="0.45"/><circle cx="716.31" cy="511.97" r="1.6" fill="#000" fill-opacity="0.45"/><circle cx="716.28" cy="511.76" r="1.6" fill="#000" fill-opacity="0.45"/><circle cx="715.37" cy="481.33" r="1.6" fill="#000" fill-opacity="0.45"/><circle cx="715.20" cy="481.71" r="1.6" fill="#000" fill-opacity="0.45"/><circle cx="717.05" cy="487.80" r="1.6" fill="#000" fill-opacity="0.45"/><circle cx="717.30" cy="509.01" r="1.6" fill="#000" fill-opacity="0.45"/><circle cx="715.79" cy="509.99" r="1.6" fill="#000" fill-opacity="0.45"/><circle cx="716.23" cy="500.67" r="1.6" fill="#000" fill-opacity="0.45"/><circle cx="716.46" cy="514.52" r="1.6" fill="#000" fill-opacity="0.45"/><circle cx="716.77" cy="483.65" r="1.6" fill="#000" fill-opacity="0.45"/><circle cx="715.66" cy="524.94" r="1.6" fill="#000" fill-opacity="0.45"/><circle cx="715.14" cy="519.92" r="1.6" fill="#000" fill-opacity="0.45"/><circle cx="715.71" cy="483.36" r="1.6" fill="#000" fill-opacity="0.45"/><circle cx="717.56" cy="511.89" r="1.6" fill="#000" fill-opacity="0.45"/><circle cx="715.95" cy="512.02" r="1.6" fill="#000" fill-opacity="0.45"/><circle cx="715.95" cy="519.93" r="1.6" fill="#000" fill-opacity="0.45"/><circle cx="717.46" cy="482.11" r="1.6" fill="#000" fill-opacity="0.45"/><circle cx="716.90" cy="505.21" r="1.6" fill="#000" fill-opacity="0.45"/><circle cx="717.65" cy="507.25" r="1.6" fill="#000" fill-opacity="0.45"/><circle cx="717.28" cy="495.70" r="1.6" fill="#000" fill-opacity="0.45"/><circle cx="717.33" cy="509.16" r="1.6" fill="#000" fill-opacity="0.45"/><circle cx="716.98" cy="493.80" r="1.6" fill="#000" fill-opacity="0.45"/><circle cx="715.90" cy="578.33" r="1.6" fill="#000" fill-opacity="0.45"/><circle cx="716.72" cy="546.08" r="1.6" fill="#000" fill-opacity="0.45"/><circle cx="717.47" cy="534.00" r="1.6" fill="#000" fill-opacity="0.45"/><circle cx="715.17" cy="540.01" r="1.6" fill="#000" fill-opacity="0.45"/><circle cx="717.52" cy="536.60" r="1.6" fill="#000" fill-opacity="0.45"/><circle cx="715.47" cy="558.04" r="1.6" fill="#000" fill-opacity="0.45"/><circle cx="715.21" cy="529.59" r="1.6" fill="#000" fill-opacity="0.45"/><circle cx="716.75" cy="589.34" r="1.6" fill="#000" fill-opacity="0.45"/><circle cx="717.02" cy="589.73" r="1.6" fill="#000" fill-opacity="0.45"/><circle cx="716.64" cy="532.92" r="1.6" fill="#000" fill-opacity="0.45"/><circle cx="717.23" cy="559.71" r="1.6" fill="#000" fill-opacity="0.45"/><circle cx="717.42" cy="600.76" r="1.6" fill="#000" fill-opacity="0.45"/><circle cx="717.36" cy="532.94" r="1.6" fill="#000" fill-opacity="0.45"/><circle cx="717.56" cy="609.30" r="1.6" fill="#000" fill-opacity="0.45"/><path d="M771.10,460.70 L771.22,461.17 L771.39,461.82 L771.59,462.59 L771.79,463.41 L771.97,464.24 L772.10,465.00 L772.21,465.68 L772.31,466.31 L772.39,466.94 L772.43,467.61 L772.40,468.35 L772.30,469.20 L772.11,470.17 L771.83,471.23 L771.50,472.37 L771.12,473.56 L770.72,474.77 L770.30,476.00 L769.86,477.27 L769.37,478.62 L768.86,479.99 L768.34,481.36 L767.81,482.67 L767.30,483.90 L766.79,484.98 L766.28,485.93 L765.77,486.84 L765.26,487.77 L764.77,488.80 L764.30,490.00 L763.84,491.41 L763.38,492.96 L762.93,494.62 L762.51,496.33 L762.13,498.04 L761.80,499.70 L761.52,501.33 L761.29,502.96 L761.10,504.60 L760.94,506.24 L760.79,507.87 L760.65,509.50 L760.53,511.12 L760.45,512.74 L760.38,514.35 L760.32,515.96 L760.23,517.58 L760.10,519.20 L759.93,520.83 L759.75,522.46 L759.54,524.10 L759.31,525.74 L759.06,527.37 L758.80,529.00 L758.51,530.63 L758.19,532.27 L757.85,533.91 L757.51,535.54 L757.17,537.14 L756.86,538.70 L756.53,540.20 L756.17,541.63 L755.82,543.04 L755.52,544.46 L755.32,545.93 L755.25,547.50 L755.37,549.20 L755.65,551.00 L756.03,552.85 L756.43,554.70 L756.79,556.50 L757.02,558.20 L757.12,559.88 L757.15,561.60 L757.13,563.27 L757.08,564.79 L757.04,566.06 L757.02,567.00 L752.58,567.00 L752.56,566.06 L752.52,564.79 L752.47,563.27 L752.45,561.60 L752.48,559.88 L752.58,558.20 L752.81,556.50 L753.17,554.70 L753.57,552.85 L753.95,551.00 L754.23,549.20 L754.35,547.50 L754.28,545.93 L754.08,544.46 L753.78,543.04 L753.43,541.63 L753.07,540.20 L752.74,538.70 L752.43,537.14 L752.09,535.54 L751.75,533.91 L751.41,532.27 L751.09,530.63 L750.80,529.00 L750.54,527.37 L750.29,525.74 L750.06,524.10 L749.85,522.46 L749.67,520.83 L749.50,519.20 L749.37,517.58 L749.28,515.96 L749.22,514.35 L749.15,512.74 L749.07,511.12 L748.95,509.50 L748.81,507.87 L748.66,506.24 L748.50,504.60 L748.31,502.96 L748.08,501.33 L747.80,499.70 L747.47,498.04 L747.09,496.33 L746.67,494.62 L746.22,492.96 L745.76,491.41 L745.30,490.00 L744.83,488.80 L744.34,487.77 L743.83,486.84 L743.32,485.93 L742.81,484.98 L742.30,483.90 L741.79,482.67 L741.26,481.36 L740.74,479.99 L740.23,478.62 L739.74,477.27 L739.30,476.00 L738.88,474.77 L738.48,473.56 L738.10,472.37 L737.77,471.23 L737.49,470.17 L737.30,469.20 L737.20,468.35 L737.17,467.61 L737.21,466.94 L737.29,466.31 L737.39,465.68 L737.50,465.00 L737.63,464.24 L737.81,463.41 L738.01,462.59 L738.21,461.82 L738.38,461.17 L738.50,460.70Z" fill="#e8432e" stroke="#222" stroke-width="1.4" stroke-linejoin="round"/><line x1="754.80" y1="460.70" x2="754.80" y2="466.40" stroke="#222" stroke-width="1.35"/><line x1="754.80" y1="500.30" x2="754.80" y2="567.00" stroke="#222" stroke-width="1.35"/><rect x="751.75" y="466.40" width="6.10" height="33.90" fill="none" stroke="#222" stroke-width="1.35"/><rect x="752.80" y="459.80" width="4.00" height="3.70" rx="0.8" fill="#000" fill-opacity="1.0"/><circle cx="754.03" cy="469.64" r="1.6" fill="#000" fill-opacity="0.45"/><circle cx="753.59" cy="469.81" r="1.6" fill="#000" fill-opacity="0.45"/><circle cx="755.61" cy="494.82" r="1.6" fill="#000" fill-opacity="0.45"/><circle cx="755.65" cy="487.56" r="1.6" fill="#000" fill-opacity="0.45"/><circle cx="754.25" cy="487.47" r="1.6" fill="#000" fill-opacity="0.45"/><circle cx="753.75" cy="469.40" r="1.6" fill="#000" fill-opacity="0.45"/><circle cx="754.03" cy="491.75" r="1.6" fill="#000" fill-opacity="0.45"/><circle cx="754.60" cy="476.85" r="1.6" fill="#000" fill-opacity="0.45"/><circle cx="754.17" cy="466.71" r="1.6" fill="#000" fill-opacity="0.45"/><circle cx="755.36" cy="475.61" r="1.6" fill="#000" fill-opacity="0.45"/><circle cx="754.33" cy="524.66" r="1.6" fill="#000" fill-opacity="0.45"/><circle cx="754.81" cy="564.59" r="1.6" fill="#000" fill-opacity="0.45"/><circle cx="755.11" cy="557.04" r="1.6" fill="#000" fill-opacity="0.45"/><circle cx="754.57" cy="502.08" r="1.6" fill="#000" fill-opacity="0.45"/><line x1="442.90" y1="546.81" x2="527.50" y2="546.81" stroke="#a9a9a9" stroke-width="1.6" stroke-dasharray="5.6 5.85"/><line x1="442.5" y1="442.4" x2="442.5" y2="786.8" stroke="#000" stroke-width="1.6"/><line x1="439.70" y1="770.20" x2="442.50" y2="770.20" stroke="#222" stroke-width="1.3"/><text x="436.70" y="773.10" font-size="10.5" text-anchor="end" fill="#4d4d4d" stroke="#4d4d4d" stroke-width="0.35">0.00</text><line x1="439.70" y1="692.20" x2="442.50" y2="692.20" stroke="#222" stroke-width="1.3"/><text x="436.70" y="695.10" font-size="10.5" text-anchor="end" fill="#4d4d4d" stroke="#4d4d4d" stroke-width="0.35">0.25</text><line x1="439.70" y1="614.20" x2="442.50" y2="614.20" stroke="#222" stroke-width="1.3"/><text x="436.70" y="617.10" font-size="10.5" text-anchor="end" fill="#4d4d4d" stroke="#4d4d4d" stroke-width="0.35">0.50</text><line x1="439.70" y1="536.20" x2="442.50" y2="536.20" stroke="#222" stroke-width="1.3"/><text x="436.70" y="539.10" font-size="10.5" text-anchor="end" fill="#4d4d4d" stroke="#4d4d4d" stroke-width="0.35">0.75</text><line x1="439.70" y1="458.20" x2="442.50" y2="458.20" stroke="#222" stroke-width="1.3"/><text x="436.70" y="461.10" font-size="10.5" text-anchor="end" fill="#4d4d4d" stroke="#4d4d4d" stroke-width="0.35">1.00</text><line x1="441.7" y1="786" x2="527.5" y2="786" stroke="#000" stroke-width="1.6"/><line x1="465.60" y1="786.00" x2="465.60" y2="788.80" stroke="#222" stroke-width="1.3"/><line x1="504.10" y1="786.00" x2="504.10" y2="788.80" stroke="#222" stroke-width="1.3"/><text x="412.20" y="610.50" font-size="10.8" text-anchor="middle" fill="#000" stroke="#000" stroke-width="0.35" transform="rotate(-90 412.20 610.50)">Prediction score</text><text x="442.80" y="438.20" font-size="10.8" text-anchor="start" fill="#000" stroke="#000" stroke-width="0.35">study</text><text x="465.60" y="800.00" font-size="10.8" text-anchor="middle" fill="#4d4d4d" stroke="#4d4d4d" stroke-width="0.35">I</text><text x="505.10" y="800.00" font-size="10.8" text-anchor="middle" fill="#4d4d4d" stroke="#4d4d4d" stroke-width="0.35">II</text><line x1="568.20" y1="546.81" x2="652.80" y2="546.81" stroke="#a9a9a9" stroke-width="1.6" stroke-dasharray="5.6 5.85"/><line x1="567.8" y1="442.4" x2="567.8" y2="786.8" stroke="#000" stroke-width="1.6"/><line x1="565.00" y1="770.20" x2="567.80" y2="770.20" stroke="#222" stroke-width="1.3"/><text x="562.00" y="773.10" font-size="10.5" text-anchor="end" fill="#4d4d4d" stroke="#4d4d4d" stroke-width="0.35">0.00</text><line x1="565.00" y1="692.20" x2="567.80" y2="692.20" stroke="#222" stroke-width="1.3"/><text x="562.00" y="695.10" font-size="10.5" text-anchor="end" fill="#4d4d4d" stroke="#4d4d4d" stroke-width="0.35">0.25</text><line x1="565.00" y1="614.20" x2="567.80" y2="614.20" stroke="#222" stroke-width="1.3"/><text x="562.00" y="617.10" font-size="10.5" text-anchor="end" fill="#4d4d4d" stroke="#4d4d4d" stroke-width="0.35">0.50</text><line x1="565.00" y1="536.20" x2="567.80" y2="536.20" stroke="#222" stroke-width="1.3"/><text x="562.00" y="539.10" font-size="10.5" text-anchor="end" fill="#4d4d4d" stroke="#4d4d4d" stroke-width="0.35">0.75</text><line x1="565.00" y1="458.20" x2="567.80" y2="458.20" stroke="#222" stroke-width="1.3"/><text x="562.00" y="461.10" font-size="10.5" text-anchor="end" fill="#4d4d4d" stroke="#4d4d4d" stroke-width="0.35">1.00</text><line x1="567.0" y1="786" x2="652.8" y2="786" stroke="#000" stroke-width="1.6"/><line x1="590.90" y1="786.00" x2="590.90" y2="788.80" stroke="#222" stroke-width="1.3"/><line x1="629.40" y1="786.00" x2="629.40" y2="788.80" stroke="#222" stroke-width="1.3"/><text x="537.50" y="610.50" font-size="10.8" text-anchor="middle" fill="#000" stroke="#000" stroke-width="0.35" transform="rotate(-90 537.50 610.50)">Prediction score</text><text x="568.10" y="438.20" font-size="10.8" text-anchor="start" fill="#000" stroke="#000" stroke-width="0.35">1st validation</text><text x="590.90" y="800.00" font-size="10.8" text-anchor="middle" fill="#4d4d4d" stroke="#4d4d4d" stroke-width="0.35">I</text><text x="630.40" y="800.00" font-size="10.8" text-anchor="middle" fill="#4d4d4d" stroke="#4d4d4d" stroke-width="0.35">II</text><line x1="693.60" y1="546.81" x2="778.20" y2="546.81" stroke="#a9a9a9" stroke-width="1.6" stroke-dasharray="5.6 5.85"/><line x1="693.2" y1="442.4" x2="693.2" y2="786.8" stroke="#000" stroke-width="1.6"/><line x1="690.40" y1="770.20" x2="693.20" y2="770.20" stroke="#222" stroke-width="1.3"/><text x="687.40" y="773.10" font-size="10.5" text-anchor="end" fill="#4d4d4d" stroke="#4d4d4d" stroke-width="0.35">0.00</text><line x1="690.40" y1="692.20" x2="693.20" y2="692.20" stroke="#222" stroke-width="1.3"/><text x="687.40" y="695.10" font-size="10.5" text-anchor="end" fill="#4d4d4d" stroke="#4d4d4d" stroke-width="0.35">0.25</text><line x1="690.40" y1="614.20" x2="693.20" y2="614.20" stroke="#222" stroke-width="1.3"/><text x="687.40" y="617.10" font-size="10.5" text-anchor="end" fill="#4d4d4d" stroke="#4d4d4d" stroke-width="0.35">0.50</text><line x1="690.40" y1="536.20" x2="693.20" y2="536.20" stroke="#222" stroke-width="1.3"/><text x="687.40" y="539.10" font-size="10.5" text-anchor="end" fill="#4d4d4d" stroke="#4d4d4d" stroke-width="0.35">0.75</text><line x1="690.40" y1="458.20" x2="693.20" y2="458.20" stroke="#222" stroke-width="1.3"/><text x="687.40" y="461.10" font-size="10.5" text-anchor="end" fill="#4d4d4d" stroke="#4d4d4d" stroke-width="0.35">1.00</text><line x1="692.4000000000001" y1="786" x2="778.2" y2="786" stroke="#000" stroke-width="1.6"/><line x1="716.30" y1="786.00" x2="716.30" y2="788.80" stroke="#222" stroke-width="1.3"/><line x1="754.80" y1="786.00" x2="754.80" y2="788.80" stroke="#222" stroke-width="1.3"/><text x="662.90" y="610.50" font-size="10.8" text-anchor="middle" fill="#000" stroke="#000" stroke-width="0.35" transform="rotate(-90 662.90 610.50)">Prediction score</text><text x="693.50" y="438.20" font-size="10.8" text-anchor="start" fill="#000" stroke="#000" stroke-width="0.35">2nd validation</text><text x="716.30" y="800.00" font-size="10.8" text-anchor="middle" fill="#4d4d4d" stroke="#4d4d4d" stroke-width="0.35">I</text><text x="755.80" y="800.00" font-size="10.8" text-anchor="middle" fill="#4d4d4d" stroke="#4d4d4d" stroke-width="0.35">II</text><text x="398.70" y="431.00" font-size="14" text-anchor="start" fill="#000" stroke="#000" stroke-width="0.35">D</text></svg>
</body></html>
